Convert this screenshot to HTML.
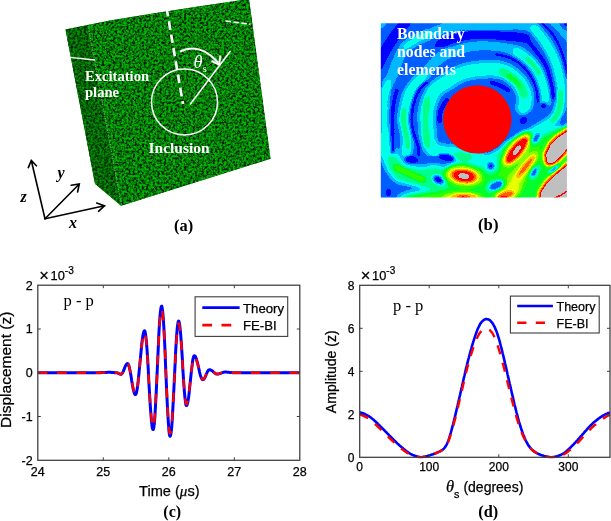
<!DOCTYPE html>
<html><head><meta charset="utf-8"><title>Figure</title>
<style>
html,body{margin:0;padding:0;background:#fff;}
body{width:611px;height:521px;overflow:hidden;}
svg{display:block;}
.sans{font-family:"Liberation Sans","DejaVu Sans",sans-serif;}
.serif{font-family:"Liberation Serif","DejaVu Serif",serif;}
</style></head><body>
<svg width="611" height="521" viewBox="0 0 611 521">
<defs>
<filter id="mesh" x="0" y="0" width="100%" height="100%" color-interpolation-filters="sRGB">
<feTurbulence type="fractalNoise" baseFrequency="0.45" numOctaves="2" seed="7" result="n"/>
<feColorMatrix in="n" type="matrix" values="0 0 0 0 0.012  0 2.6 0 0 -0.76  0 0 0 0 0.02  0 0 0 0 1" result="g"/>
<feComponentTransfer in="g" result="g2"><feFuncG type="table" tableValues="0.12 0.47 0.72"/></feComponentTransfer>
<feComposite in="g2" in2="SourceGraphic" operator="in"/>
</filter>
<clipPath id="clipc"><rect x="37.8" y="285.2" width="262.0" height="175.10000000000002"/></clipPath>
<clipPath id="clipd"><rect x="359.7" y="285.3" width="251.3" height="173.0"/></clipPath>
</defs>
<rect width="611" height="521" fill="#fff"/>

<!-- panel (a) -->
<g id="panel-a">
<polygon points="65.5,29.5 110,20.6 153,13.4 200,6.2 249,-1 270.5,158.7 121,205.7 95,183.7" fill="#0c730f"/>
<polygon points="65.5,29.5 110,20.6 153,13.4 200,6.2 249,-1 270.5,158.7 121,205.7 95,183.7" fill="#0c730f" filter="url(#mesh)"/>
<polygon points="65.5,29.5 88,26 121.5,205.5 95,183.7" fill="#003000" opacity="0.28"/>
<line x1="88" y1="26" x2="121.5" y2="205.5" stroke="#9fc79f" stroke-width="0.7" stroke-dasharray="1.2 1.2"/>
<line x1="70" y1="57.3" x2="95" y2="60" stroke="#fff" stroke-width="1.3"/>
<line x1="166.6" y1="8" x2="183" y2="104" stroke="#fff" stroke-width="2.6" stroke-dasharray="8.5 5"/>
<line x1="225.5" y1="21" x2="250.5" y2="24.3" stroke="#fff" stroke-width="1.6" stroke-dasharray="5.5 2.5"/>
<circle cx="184.5" cy="102" r="33" fill="none" stroke="#fff" stroke-width="1.5"/>
<line x1="190" y1="104.5" x2="230.5" y2="51" stroke="#fff" stroke-width="1.5"/>
<path d="M180,51.5 Q200,42 218,62.5" fill="none" stroke="#fff" stroke-width="2"/>
<path d="M211.5,61 L219,64.5 L220.5,55.5" fill="none" stroke="#fff" stroke-width="2"/>
<g class="serif" fill="#fff" font-weight="bold">
<text x="85" y="80.5" font-size="14.6">Excitation</text>
<text x="85" y="97.2" font-size="14.6">plane</text>
<text x="148.5" y="152.5" font-size="15.5">Inclusion</text>
<text x="193.6" y="68" font-size="18.5" font-style="italic" font-weight="normal">θ<tspan font-size="10.5" dy="3.5" font-style="normal">s</tspan></text>
</g>
<g stroke="#000" stroke-width="1.6" fill="none" stroke-linecap="round">
<path d="M45,218.7 L31.3,160.5 M28.3,167.6 L31.3,160.5 L36.4,165.8"/>
<path d="M45,218.7 L79.3,184 M71.2,185.3 L79.3,184 L77.6,192"/>
<path d="M45,218.7 L104.5,205.8 M96.7,203 L104.5,205.8 L98.5,211.3"/>
</g>
<g class="serif" font-weight="bold" font-style="italic" font-size="16" fill="#000">
<text x="20.5" y="201.5">z</text>
<text x="57.5" y="178">y</text>
<text x="69" y="228.3">x</text>
</g>
<text class="serif" x="174" y="230.6" font-size="16.4" font-weight="bold">(a)</text>
</g>

<!-- panel (b) -->
<g id="panel-b">
<defs>
<filter id="b1" x="-30%" y="-30%" width="160%" height="160%" color-interpolation-filters="sRGB"><feGaussianBlur stdDeviation="1.1"/></filter>
<filter id="b2" x="-30%" y="-30%" width="160%" height="160%" color-interpolation-filters="sRGB"><feGaussianBlur stdDeviation="1.9"/></filter>
<filter id="b3" x="-30%" y="-30%" width="160%" height="160%" color-interpolation-filters="sRGB"><feGaussianBlur stdDeviation="3"/></filter>
<filter id="b4" x="-30%" y="-30%" width="160%" height="160%" color-interpolation-filters="sRGB"><feGaussianBlur stdDeviation="4.5"/></filter>
<filter id="jet" x="0" y="0" width="100%" height="100%" color-interpolation-filters="sRGB">
<feGaussianBlur stdDeviation="0.6"/>
<feComponentTransfer>
<feFuncR type="discrete" tableValues="0 0 0 0 0 0 .18 .545 .91 1 1 1 .75"/>
<feFuncG type="discrete" tableValues="0 .365 .725 1 1 1 1 1 1 .725 .365 0 .75"/>
<feFuncB type="discrete" tableValues="1 1 1 .91 .545 .18 0 0 0 0 0 0 .75"/>
</feComponentTransfer>
<feGaussianBlur stdDeviation="0.6"/>
</filter>
<clipPath id="clipb"><rect x="380.8" y="23.3" width="186.1" height="174.3"/></clipPath>
</defs>
<g clip-path="url(#clipb)">
<g filter="url(#jet)">
<rect x="371" y="13.5" width="206" height="193.5" fill="#222222"/>
<path d="M575.0,124.0 L560.0,127.0 L548.0,129.0 L538.0,134.0 L527.0,140.0 L517.0,141.0 L509.0,150.0 L500.0,157.0 L482.0,163.0 L466.0,163.0 L450.0,168.0 L442.0,186.0 L420.0,205.0 L575.0,205.0 Z" fill="#6a6a6a" filter="url(#b4)"/>
<path d="M385.5,135.0 L385.1,133.1 L384.8,131.1 L384.5,129.2 L384.2,127.3 L384.0,125.3 L383.9,123.4 L383.8,121.4 L383.8,119.5 L383.9,117.5 L383.9,115.6 L384.0,113.6 L384.0,111.6 L384.0,109.7 L384.0,107.7 L383.9,105.7 L383.9,103.7 L383.9,101.7 L384.0,99.8 L384.1,97.8 L384.4,95.9 L384.7,94.0 L385.2,92.2 L385.9,90.3 L386.6,88.5 L387.3,86.7 L388.1,84.9 L389.0,83.1 L389.7,81.3 L390.5,79.5 L391.3,77.7 L392.0,75.9 L392.7,74.1 L393.4,72.2 L394.1,70.4 L394.8,68.5 L395.5,66.7 L396.1,64.8 L396.8,62.9 L397.5,61.0 L398.2,59.1 L399.0,57.2 L399.8,55.4 L400.7,53.7 L401.7,52.0 L402.7,50.3 L403.8,48.8 L405.1,47.3 L406.4,46.0 L407.9,44.8 L409.5,43.6 L411.1,42.5 L412.9,41.5 L414.6,40.6 L416.4,39.7 L418.2,38.9 L420.0,38.1 L421.8,37.3 L423.6,36.6 L425.4,35.8 L427.3,35.1 L429.1,34.4 L430.9,33.7 L432.7,32.9 L434.5,32.2 L436.3,31.4 L438.2,30.7 L440.0,30.0 L441.8,29.4 L443.7,28.7 L445.6,28.2 L447.4,27.6 L449.3,27.1 L451.3,26.7 L453.2,26.4 L455.1,26.1 L457.1,25.9 L459.0,25.7 L461.0,25.6 L462.9,25.5 L464.9,25.5 L466.9,25.4 L468.9,25.4 L470.8,25.4 L472.8,25.5 L474.7,25.5 L476.7,25.5 L478.6,25.5 L480.6,25.5 L482.5,25.5 L484.4,25.5 L486.3,25.5 L488.3,25.5 L490.2,25.5 L492.1,25.5 L494.1,25.4 L496.0,25.4 L498.0,25.3 L500.0,25.2 L502.0,25.1 L504.0,25.0 L506.1,24.9 L508.2,24.8 L510.3,24.7 L512.4,24.6 L514.4,24.6 L516.5,24.6 L518.6,24.6 L520.6,24.7 L522.6,24.8 L524.6,25.1 L526.5,25.5 L528.3,25.9 L530.1,26.5 L531.8,27.2 L533.4,28.1 L535.0,29.1 L536.4,30.2 L537.8,31.5 L539.1,33.0 L540.4,34.5 L541.5,36.1 L542.7,37.8 L543.8,39.5 L544.8,41.2 L545.8,43.0 L546.9,44.8 L547.9,46.5 L548.8,48.3 L549.8,50.0 L550.7,51.7 L551.6,53.5 L552.5,55.2 L553.3,57.0 L554.1,58.7 L554.9,60.5 L555.5,62.3 L556.2,64.1 L556.7,66.0 L557.3,67.9 L557.8,69.8 L558.2,71.7 L558.7,73.6 L559.1,75.5 L559.5,77.5 L559.8,79.4 L560.2,81.3 L560.5,83.3 L560.8,85.2 L561.1,87.1 L561.3,89.1 L561.5,91.0 L561.5,93.0 L561.5,94.9 L561.4,96.9 L561.2,98.8 L561.0,100.8 L560.7,102.7 L560.4,104.7 L560.0,106.6 L559.5,108.5 L559.0,110.4 L558.3,112.3 L557.5,114.0 L556.5,115.8 L555.4,117.4 L554.2,118.9 L552.8,120.3 L551.3,121.6 L549.7,122.7 L548.0,123.8 L546.3,124.7 L544.6,125.7 L542.9,126.6 L541.2,127.6 L539.5,128.6 L537.8,129.6 L536.2,130.7 L534.6,131.8 L533.0,133.0 L531.5,134.2 L530.0,135.4 L528.5,136.7 L527.0,138.0" fill="none" stroke="#333333" stroke-width="9" stroke-linecap="round" stroke-linejoin="round" filter="url(#b2)"/>
<path d="M385.5,135.0 L385.3,133.7 L385.0,132.3 L384.8,131.0 L384.6,129.7 L384.4,128.4 L384.2,127.0 L384.1,125.7 L384.0,124.4 L383.9,123.0 L383.8,121.7 L383.8,120.3 L383.8,119.0 L383.9,117.7 L383.9,116.3 L383.9,115.0 L384.0,113.6 L384.0,112.3 L384.0,110.9 L384.0,109.5 L384.0,108.2 L384.0,106.8 L383.9,105.5 L383.9,104.1 L383.9,102.7 L383.9,101.4 L384.0,100.0 L384.1,98.7 L384.2,97.4 L384.4,96.0 L384.6,94.7 L384.9,93.4 L385.2,92.2 L385.6,90.9 L386.1,89.6 L386.6,88.4 L387.1,87.1 L387.7,85.9 L388.2,84.6 L388.8,83.4" fill="none" stroke="#494949" stroke-width="8" stroke-linecap="round" stroke-linejoin="round" filter="url(#b2)"/>
<path d="M405.6,46.8 L406.6,46.1 L407.7,45.4 L408.7,44.7 L409.7,44.0 L410.8,43.3 L411.8,42.6 L412.9,41.9 L414.0,41.3 L415.0,40.6 L416.1,40.0 L417.2,39.4 L418.3,38.8 L419.4,38.3 L420.5,37.8 L421.7,37.3 L422.8,36.8 L424.0,36.3 L425.1,35.8 L426.3,35.4 L427.5,34.9 L428.6,34.5 L429.8,34.0 L431.0,33.6" fill="none" stroke="#474747" stroke-width="5.5" stroke-linecap="round" stroke-linejoin="round" filter="url(#b2)"/>
<path d="M534.3,28.6 L535.3,29.8 L536.3,30.9 L537.2,32.1 L538.2,33.3 L539.2,34.4 L540.1,35.6 L541.1,36.8 L542.0,38.0 L542.9,39.2 L543.8,40.4 L544.7,41.6 L545.6,42.9 L546.5,44.1 L547.3,45.4 L548.1,46.7 L548.9,48.0 L549.6,49.3 L550.4,50.7 L551.1,52.0 L551.8,53.4 L552.4,54.7 L553.1,56.1 L553.7,57.5 L554.3,58.9 L554.8,60.3 L555.3,61.8 L555.8,63.2 L556.3,64.6 L556.7,66.1 L557.2,67.5 L557.5,69.0 L557.9,70.5 L558.3,72.0 L558.6,73.4 L558.9,74.9 L559.2,76.4 L559.5,77.9 L559.8,79.4 L560.1,80.9 L560.4,82.4 L560.6,83.9 L560.9,85.4 L561.1,86.9 L561.3,88.4 L561.4,89.9 L561.5,91.4 L561.5,93.0 L561.5,94.5 L561.5,96.0 L561.4,97.5 L561.2,99.0 L561.0,100.5 L560.8,102.0 L560.6,103.5 L560.3,105.1 L560.0,106.6 L559.7,108.0 L559.3,109.5 L558.8,111.0 L558.2,112.4 L557.6,113.8 L556.9,115.1 L556.1,116.4 L555.2,117.6 L554.2,118.8 L553.2,119.9 L552.1,121.0 L550.9,121.9 L549.6,122.8 L548.3,123.6 L547.0,124.3 L545.7,125.1 L544.3,125.8 L543.0,126.5 L541.7,127.3 L540.4,128.0 L539.1,128.8 L537.8,129.6 L536.5,130.5 L535.3,131.3 L534.0,132.2 L532.8,133.1 L531.6,134.1 L530.5,135.0 L529.3,136.0 L528.2,137.0 L527.0,138.0" fill="none" stroke="#494949" stroke-width="8" stroke-linecap="round" stroke-linejoin="round" filter="url(#b2)"/>
<path d="M560.5,92.0 L560.5,93.0 L560.6,94.0 L560.6,94.9 L560.6,95.9 L560.6,96.9 L560.6,97.9 L560.6,98.8 L560.6,99.8 L560.5,100.8 L560.5,101.8 L560.4,102.7 L560.3,103.7 L560.2,104.7 L560.1,105.7 L559.9,106.7 L559.7,107.6 L559.5,108.6 L559.2,109.5 L559.0,110.5 L558.6,111.4 L558.3,112.3 L557.9,113.2 L557.5,114.1 L557.0,114.9 L556.5,115.8 L555.9,116.6 L555.4,117.4 L554.8,118.2 L554.2,118.9 L553.6,119.7 L553.0,120.5" fill="none" stroke="#5e5e5e" stroke-width="4.6" stroke-linecap="round" stroke-linejoin="round" filter="url(#b1)"/>
<path d="M406.0,153.0 L406.2,151.3 L406.4,149.5 L406.6,147.8 L406.8,146.1 L406.9,144.4 L407.0,142.6 L407.1,140.9 L407.1,139.1 L407.0,137.4 L406.9,135.6 L406.7,133.9 L406.5,132.2 L406.1,130.5 L405.7,128.8 L405.2,127.1 L404.6,125.4 L404.2,123.7 L403.8,122.0 L403.5,120.3 L403.5,118.6 L403.6,116.9 L403.8,115.2 L404.2,113.5 L404.6,111.8 L405.0,110.0 L405.3,108.3 L405.7,106.6 L406.0,104.9 L406.4,103.1 L406.7,101.5 L407.1,99.8 L407.6,98.1 L408.1,96.4 L408.7,94.8 L409.3,93.2 L410.0,91.6 L410.9,90.1 L411.7,88.6 L412.7,87.1 L413.8,85.7 L414.9,84.3 L416.1,83.0 L417.3,81.8 L418.6,80.7 L420.0,79.5 L421.3,78.4 L422.6,77.2 L423.8,76.0 L424.9,74.7 L426.0,73.4 L427.1,72.0 L428.2,70.6 L429.2,69.2 L430.2,67.8 L431.3,66.4 L432.4,65.0 L433.5,63.7 L434.6,62.4 L435.8,61.2 L437.1,60.0 L438.4,58.9 L439.8,57.8 L441.2,56.8 L442.7,55.9 L444.2,55.0 L445.7,54.1 L447.3,53.3 L448.9,52.5 L450.5,51.8 L452.2,51.1 L453.8,50.5 L455.5,49.8 L457.1,49.2 L458.8,48.7 L460.5,48.2 L462.1,47.7 L463.8,47.2 L465.5,46.8 L467.2,46.4 L468.9,46.1 L470.6,45.7 L472.3,45.5 L474.0,45.2 L475.8,45.0 L477.5,44.9 L479.2,44.7 L481.0,44.7 L482.7,44.6 L484.4,44.6 L486.2,44.6 L487.9,44.7 L489.7,44.8 L491.4,44.9 L493.2,45.1 L494.9,45.3 L496.6,45.6 L498.4,45.9 L500.1,46.2 L501.8,46.5 L503.5,46.9 L505.2,47.3 L506.9,47.8 L508.6,48.3 L510.2,48.9 L511.8,49.5 L513.5,50.1 L515.0,50.8 L516.6,51.6 L518.1,52.4 L519.6,53.3 L521.1,54.2 L522.6,55.2 L524.0,56.2 L525.4,57.3 L526.7,58.4 L528.0,59.5 L529.3,60.7 L530.6,61.9 L531.8,63.2 L533.0,64.5 L534.1,65.8 L535.2,67.2 L536.2,68.6 L537.2,70.0 L538.1,71.5 L538.9,73.0 L539.7,74.6 L540.4,76.2 L541.1,77.8 L541.7,79.4 L542.3,81.0 L542.9,82.7 L543.4,84.4 L544.0,86.1 L544.5,87.7 L544.9,89.4 L545.3,91.1 L545.6,92.8 L545.7,94.6 L545.8,96.3 L545.8,98.0 L545.7,99.8 L545.5,101.5" fill="none" stroke="#333333" stroke-width="9.5" stroke-linecap="round" stroke-linejoin="round" filter="url(#b2)"/>
<path d="M406.0,153.0 L406.2,151.7 L406.3,150.4 L406.5,149.1 L406.6,147.9 L406.7,146.6 L406.8,145.3 L406.9,144.0 L407.0,142.7 L407.1,141.4 L407.1,140.1 L407.1,138.8 L407.0,137.5 L407.0,136.2 L406.9,134.9 L406.7,133.6 L406.5,132.4 L406.3,131.1 L405.9,129.8 L405.6,128.5 L405.2,127.3 L404.8,126.0 L404.4,124.8 L404.1,123.5 L403.8,122.3 L403.6,121.0 L403.5,119.8 L403.5,118.5 L403.6,117.2 L403.7,115.9 L403.9,114.7 L404.2,113.4 L404.5,112.1 L404.8,110.8 L405.1,109.5 L405.3,108.2 L405.6,106.9 L405.9,105.7 L406.1,104.4 L406.4,103.1 L406.6,101.8 L406.9,100.6 L407.2,99.3 L407.6,98.1 L407.9,96.9 L408.4,95.7 L408.8,94.5 L409.3,93.3 L409.8,92.1 L410.4,90.9 L411.1,89.8 L411.7,88.7 L412.4,87.6 L413.2,86.5 L414.0,85.5 L414.8,84.5 L415.7,83.5 L416.6,82.5 L417.5,81.6 L418.4,80.7 L419.4,79.9 L420.4,79.0 L421.4,78.2 L422.4,77.4" fill="none" stroke="#494949" stroke-width="9" stroke-linecap="round" stroke-linejoin="round" filter="url(#b2)"/>
<path d="M516.6,51.6 L517.7,52.3 L518.8,53.0 L519.9,53.7 L521.0,54.4 L522.1,55.1 L523.1,55.8 L524.2,56.6 L525.2,57.4 L526.3,58.1 L527.3,58.9 L528.3,59.8 L529.3,60.6 L530.2,61.5 L531.1,62.4 L532.0,63.4 L532.9,64.3 L533.8,65.3 L534.6,66.3 L535.4,67.3 L536.1,68.4 L536.9,69.5 L537.5,70.6 L538.2,71.7 L538.8,72.8 L539.4,74.0 L539.9,75.2 L540.5,76.3 L541.0,77.5 L541.4,78.7 L541.9,80.0 L542.3,81.2 L542.8,82.4 L543.2,83.7 L543.6,84.9 L544.0,86.2 L544.4,87.4 L544.7,88.7 L545.0,89.9 L545.3,91.2 L545.5,92.5 L545.7,93.8 L545.8,95.0 L545.8,96.3 L545.8,97.6 L545.7,98.9 L545.6,100.2 L545.5,101.5" fill="none" stroke="#494949" stroke-width="8.5" stroke-linecap="round" stroke-linejoin="round" filter="url(#b2)"/>
<path d="M408.5,147.0 L408.4,146.0 L408.2,145.1 L408.1,144.1 L407.9,143.2 L407.8,142.2 L407.6,141.3 L407.5,140.3 L407.3,139.4 L407.1,138.5 L406.9,137.5 L406.7,136.6 L406.4,135.6 L406.2,134.7 L406.0,133.8 L405.7,132.9 L405.5,131.9 L405.2,131.0 L405.0,130.1 L404.8,129.1 L404.5,128.2 L404.3,127.2 L404.2,126.3 L404.0,125.3 L403.8,124.4 L403.7,123.4 L403.6,122.5 L403.5,121.5 L403.4,120.6 L403.3,119.6 L403.3,118.6 L403.3,117.7 L403.3,116.7 L403.3,115.8 L403.4,114.8 L403.5,113.8 L403.5,112.9 L403.6,111.9 L403.7,111.0 L403.8,110.0" fill="none" stroke="#5c5c5c" stroke-width="4" stroke-linecap="round" stroke-linejoin="round" filter="url(#b1)"/>
<path d="M527.0,58.5 L527.6,59.1 L528.2,59.6 L528.8,60.2 L529.4,60.7 L530.0,61.3 L530.6,61.9 L531.2,62.4 L531.8,63.0 L532.4,63.6 L532.9,64.2 L533.5,64.8 L534.0,65.5 L534.5,66.1 L535.0,66.8 L535.5,67.4 L535.9,68.1 L536.4,68.8 L536.8,69.5 L537.3,70.2 L537.7,70.9 L538.1,71.6 L538.6,72.3 L539.0,73.0" fill="none" stroke="#5c5c5c" stroke-width="3.6" stroke-linecap="round" stroke-linejoin="round" filter="url(#b1)"/>
<path d="M524.0,107.5 L524.4,106.2 L524.7,104.8 L525.0,103.5 L525.3,102.1 L525.4,100.7 L525.5,99.4 L525.5,98.0 L525.4,96.6 L525.3,95.2 L525.0,93.8 L524.7,92.5 L524.2,91.2 L523.7,89.9 L523.1,88.6 L522.5,87.4 L521.8,86.2 L521.0,85.0 L520.2,83.9 L519.4,82.8 L518.5,81.8 L517.6,80.8 L516.6,79.8 L515.6,78.8 L514.6,77.8 L513.6,76.9 L512.5,76.0 L511.4,75.1 L510.3,74.3 L509.1,73.5 L507.9,72.8 L506.7,72.1 L505.5,71.5 L504.2,71.0 L502.9,70.5 L501.6,70.2 L500.3,69.9 L498.9,69.6 L497.5,69.5 L496.1,69.3 L494.7,69.3 L493.3,69.2 L491.9,69.2 L490.5,69.2 L489.1,69.2 L487.7,69.2 L486.3,69.3 L485.0,69.3 L483.6,69.4 L482.2,69.5 L480.8,69.6 L479.5,69.7 L478.1,69.9 L476.7,70.0 L475.3,70.2 L474.0,70.4 L472.6,70.6 L471.2,70.8 L469.8,71.0 L468.5,71.3 L467.1,71.6 L465.8,72.0 L464.4,72.4 L463.1,72.8 L461.8,73.3 L460.6,73.8 L459.3,74.3 L458.1,74.9 L456.9,75.6 L455.7,76.2 L454.5,76.9 L453.4,77.7 L452.2,78.4 L451.0,79.2 L449.9,79.9 L448.7,80.7 L447.6,81.5 L446.4,82.2 L445.2,83.0 L444.0,83.7 L442.7,84.4 L441.5,85.1 L440.3,85.8 L439.1,86.6 L438.0,87.4 L436.9,88.2 L435.9,89.1 L434.9,90.1 L434.1,91.1 L433.4,92.2 L432.7,93.4 L432.1,94.7 L431.5,96.0 L431.0,97.3 L430.5,98.6 L430.0,100.0 L429.5,101.3 L429.1,102.6 L428.6,103.9 L428.2,105.2 L427.8,106.6 L427.4,107.9 L427.1,109.2 L426.9,110.6 L426.7,111.9 L426.6,113.3 L426.5,114.7 L426.5,116.0 L426.5,117.4 L426.6,118.8 L426.6,120.2 L426.7,121.6 L426.8,123.0 L426.9,124.4 L427.1,125.8 L427.2,127.1 L427.3,128.5 L427.4,129.9 L427.5,131.3 L427.5,132.7 L427.6,134.0 L427.7,135.4 L427.8,136.8 L427.9,138.2 L428.1,139.5 L428.4,140.9 L428.8,142.2 L429.3,143.5 L429.9,144.8 L430.7,146.0 L431.5,147.2 L432.4,148.2 L433.4,149.2 L434.5,150.0 L435.7,150.7 L437.0,151.3 L438.3,151.8 L439.6,152.2 L441.0,152.5 L442.4,152.7 L443.8,152.7 L445.2,152.8 L446.6,152.7 L448.0,152.7 L449.4,152.7 L450.7,152.8 L452.1,152.9 L453.4,153.1 L454.7,153.4 L456.0,153.8 L457.3,154.3 L458.6,154.8 L459.9,155.4 L461.2,156.0 L462.4,156.6 L463.7,157.1 L465.0,157.6 L466.3,158.1 L467.6,158.5 L469.0,158.8 L470.3,159.1 L471.7,159.3 L473.1,159.5 L474.4,159.6 L475.8,159.8 L477.2,159.8 L478.6,159.9 L480.0,160.0" fill="none" stroke="#494949" stroke-width="14" stroke-linecap="round" stroke-linejoin="round" filter="url(#b2)"/>
<path d="M427.5,101.0 L427.2,102.1 L426.9,103.2 L426.6,104.3 L426.3,105.3 L426.0,106.4 L425.7,107.5 L425.4,108.6 L425.2,109.7 L425.0,110.8 L424.8,111.9 L424.7,113.0 L424.5,114.1 L424.4,115.2 L424.3,116.4 L424.3,117.5 L424.2,118.6 L424.2,119.7 L424.2,120.8 L424.2,122.0 L424.2,123.1 L424.3,124.2 L424.3,125.4 L424.4,126.5 L424.4,127.6 L424.5,128.7 L424.6,129.9 L424.7,131.0 L424.8,132.1 L425.0,133.2 L425.2,134.3 L425.4,135.4 L425.6,136.5 L425.9,137.6 L426.2,138.7 L426.6,139.7 L426.9,140.8 L427.3,141.9 L427.6,142.9 L428.0,144.0" fill="none" stroke="#5c5c5c" stroke-width="7" stroke-linecap="round" stroke-linejoin="round" filter="url(#b1)"/>
<path d="M503.0,72.5 L503.9,73.0 L504.7,73.4 L505.6,73.9 L506.5,74.4 L507.3,74.9 L508.2,75.4 L509.0,75.9 L509.9,76.4 L510.7,77.0 L511.5,77.5 L512.3,78.1 L513.1,78.7 L513.9,79.3 L514.7,79.9 L515.4,80.6 L516.1,81.3 L516.8,82.0 L517.5,82.7 L518.2,83.5 L518.8,84.2 L519.4,85.0 L519.9,85.9 L520.4,86.7 L520.9,87.6 L521.3,88.5 L521.7,89.4 L522.1,90.3 L522.5,91.2 L522.8,92.1 L523.2,93.1 L523.5,94.0" fill="none" stroke="#5e5e5e" stroke-width="7.5" stroke-linecap="round" stroke-linejoin="round" filter="url(#b1)"/>
<path d="M508.0,75.5 L508.6,75.9 L509.2,76.2 L509.8,76.6 L510.4,76.9 L510.9,77.3 L511.5,77.7 L512.1,78.1 L512.6,78.5 L513.2,78.9 L513.7,79.3 L514.2,79.7 L514.7,80.2 L515.2,80.7 L515.7,81.2 L516.1,81.7 L516.6,82.2 L517.0,82.7 L517.4,83.2 L517.9,83.8 L518.3,84.3 L518.7,84.9 L519.1,85.4 L519.5,86.0" fill="none" stroke="#6e6e6e" stroke-width="3.5" stroke-linecap="round" stroke-linejoin="round" filter="url(#b1)"/>
<path d="M550.0,20.0 L551.0,20.8 L551.9,21.6 L552.9,22.5 L553.9,23.3 L554.8,24.1 L555.8,25.0 L556.7,25.8 L557.6,26.7 L558.5,27.5 L559.4,28.4 L560.3,29.3 L561.2,30.2 L562.0,31.2 L562.9,32.1 L563.7,33.1 L564.5,34.0 L565.3,35.0 L566.1,36.0 L566.9,37.0 L567.7,38.0 L568.4,39.0 L569.2,40.0 L570.0,41.0" fill="none" stroke="#333333" stroke-width="5" stroke-linecap="round" stroke-linejoin="round" filter="url(#b2)"/>
<ellipse cx="567" cy="23" rx="4" ry="4" transform="rotate(0 567 23)" fill="#060606" filter="url(#b2)"/>
<ellipse cx="380.5" cy="23" rx="5" ry="4.5" transform="rotate(0 380.5 23)" fill="#353535" filter="url(#b1)"/>
<path d="M379.0,133.0 L390.0,131.0 L396.0,150.0 L405.5,164.5 L422.4,167.0 L434.5,163.8 L446.0,168.0 L446.0,191.0 L425.0,189.5 L411.6,185.5 L395.5,181.5 L387.0,170.5 L379.0,152.0 Z" fill="#494949" filter="url(#b2)"/>
<path d="M388.0,158.0 L391.0,156.0 L395.0,158.0 L403.0,167.0 L421.0,170.5 L436.0,169.0 L444.0,172.0 L444.0,188.0 L426.0,186.5 L412.0,182.5 L397.5,178.0 L390.0,168.0 Z" fill="#5c5c5c" filter="url(#b2)"/>
<path d="M396.5,167.5 L397.6,168.0 L398.7,168.6 L399.9,169.1 L401.0,169.7 L402.1,170.2 L403.2,170.7 L404.4,171.3 L405.5,171.8 L406.6,172.3 L407.7,172.9 L408.9,173.4 L410.0,173.9 L411.1,174.4 L412.3,175.0 L413.4,175.5 L414.5,176.0 L415.7,176.5 L416.8,177.0 L417.9,177.5 L419.1,178.0 L420.2,178.5 L421.4,179.0 L422.5,179.5" fill="none" stroke="#818181" stroke-width="6" stroke-linecap="round" stroke-linejoin="round" filter="url(#b1)"/>
<path d="M418.8,155.0 L418.8,153.7 L418.8,152.5 L418.8,151.2 L418.7,149.9 L418.6,148.7 L418.5,147.5 L418.3,146.3 L418.0,145.1 L417.6,143.9 L417.2,142.7 L416.7,141.5 L416.3,140.4 L415.8,139.2 L415.3,138.0 L414.8,136.9 L414.4,135.7 L414.0,134.5 L413.6,133.3 L413.3,132.1 L413.0,130.9 L412.7,129.6 L412.5,128.4 L412.3,127.2 L412.1,125.9 L412.0,124.7 L411.9,123.4 L411.8,122.2 L411.7,120.9 L411.7,119.7 L411.7,118.4 L411.7,117.2 L411.8,115.9 L411.8,114.7 L411.9,113.4 L412.1,112.2 L412.2,110.9 L412.4,109.7 L412.6,108.5 L412.8,107.2 L413.1,106.0 L413.3,104.8 L413.6,103.6 L414.0,102.4 L414.3,101.2 L414.7,100.0 L415.1,98.8 L415.6,97.6 L416.0,96.4 L416.5,95.3 L417.0,94.1 L417.6,93.0 L418.2,91.8 L418.8,90.7 L419.5,89.6 L420.2,88.6 L421.0,87.6 L421.8,86.6 L422.6,85.7 L423.6,84.9 L424.5,84.1 L425.6,83.4 L426.6,82.8 L427.7,82.1" fill="none" stroke="#080808" stroke-width="3.2" stroke-linecap="round" stroke-linejoin="round" filter="url(#b1)"/>
<path d="M495.4,54.2 L496.9,54.4 L498.4,54.7 L499.9,55.0 L501.4,55.2 L502.8,55.6 L504.3,55.9 L505.8,56.3 L507.2,56.7 L508.6,57.2 L510.0,57.8 L511.4,58.4 L512.8,59.1 L514.1,59.8 L515.4,60.5 L516.7,61.3 L518.0,62.2 L519.2,63.1 L520.4,64.1 L521.5,65.0 L522.7,66.1 L523.7,67.1 L524.8,68.2 L525.8,69.4 L526.7,70.5 L527.7,71.7 L528.6,72.9 L529.4,74.2 L530.3,75.5 L531.1,76.8 L531.8,78.1 L532.6,79.4 L533.2,80.8 L533.9,82.2 L534.5,83.6 L535.0,85.0 L535.5,86.4 L536.0,87.9 L536.4,89.3 L536.7,90.8 L537.0,92.3 L537.2,93.8 L537.4,95.2 L537.5,96.8 L537.6,98.3 L537.7,99.8 L537.8,101.3 L537.8,102.8" fill="none" stroke="#080808" stroke-width="2.6" stroke-linecap="round" stroke-linejoin="round" filter="url(#b1)"/>
<path d="M392.8,152.0 L392.8,149.8 L392.8,147.6 L392.8,145.4 L392.8,143.2 L392.8,141.0 L392.8,138.8 L392.8,136.6 L392.7,134.4 L392.7,132.2 L392.7,130.0 L392.7,127.8 L392.6,125.6 L392.6,123.4 L392.6,121.2 L392.6,119.0 L392.6,116.8 L392.7,114.6 L392.7,112.3 L392.8,110.1 L392.9,107.8 L393.1,105.5 L393.3,103.3 L393.5,101.0 L393.9,98.8 L394.4,96.7 L395.0,94.6 L395.7,92.5 L396.6,90.5 L397.7,88.7 L398.9,86.8 L400.2,85.1 L401.6,83.3 L403.0,81.6 L404.5,79.9 L405.9,78.2 L407.3,76.4 L408.6,74.7 L409.9,72.9 L411.3,71.1 L412.6,69.4 L413.9,67.6 L415.2,65.9 L416.6,64.1 L417.9,62.4 L419.4,60.7 L420.8,59.1 L422.4,57.5 L423.9,55.9 L425.5,54.3 L427.2,52.9 L428.9,51.4 L430.6,50.0 L432.4,48.7 L434.2,47.4 L436.1,46.2 L438.0,45.1 L439.9,44.0 L441.9,43.0 L443.9,42.1 L445.9,41.3 L448.0,40.5 L450.1,39.7 L452.2,39.1 L454.3,38.4 L456.5,37.9 L458.6,37.3 L460.8,36.8 L463.0,36.4 L465.2,36.0 L467.3,35.6 L469.5,35.3 L471.7,35.1 L473.9,34.9 L476.1,34.8 L478.3,34.8 L480.4,34.8 L482.6,34.8 L484.8,35.0 L486.9,35.1 L489.1,35.2 L491.3,35.4 L493.5,35.5 L495.8,35.6 L498.0,35.7 L500.3,35.7 L502.7,35.7 L505.0,35.6 L507.4,35.5 L509.7,35.5 L512.0,35.5 L514.3,35.5 L516.6,35.7 L518.7,36.0 L520.8,36.4 L522.8,37.0 L524.7,37.8 L526.4,38.9 L528.1,40.2 L529.6,41.7 L531.0,43.4 L532.4,45.1 L533.7,47.0 L535.0,48.9 L536.2,50.9 L537.5,52.8 L538.8,54.7 L540.1,56.6 L541.4,58.4 L542.6,60.3 L543.8,62.1 L544.9,63.9 L545.9,65.9 L546.8,67.8 L547.6,69.9 L548.2,72.0 L548.8,74.1 L549.4,76.3 L549.9,78.4 L550.4,80.6 L551.0,82.7 L551.5,84.9 L552.0,87.0 L552.4,89.2 L552.7,91.4 L552.8,93.6 L552.9,95.8 L553.0,98.0" fill="none" stroke="#121212" stroke-width="3.5" stroke-linecap="round" stroke-linejoin="round" filter="url(#b2)"/>
<path d="M392.8,152.0 L392.8,150.0 L392.8,148.0 L392.8,146.0 L392.8,144.0 L392.8,142.0 L392.8,140.0 L392.8,138.0 L392.7,135.9 L392.6,133.9 L392.6,131.9 L392.5,129.9 L392.4,127.9 L392.4,125.9 L392.3,123.9 L392.3,121.9 L392.3,119.8 L392.3,117.8 L392.4,115.8 L392.5,113.9 L392.6,111.9 L392.8,109.9 L393.1,107.9 L393.4,105.9 L393.7,103.9 L394.1,102.0 L394.5,100.0 L394.9,98.0 L395.4,96.1 L395.8,94.1 L396.3,92.2 L396.8,90.2" fill="none" stroke="#060606" stroke-width="2.6" stroke-linecap="round" stroke-linejoin="round" filter="url(#b1)"/>
<path d="M440.0,44.0 L442.1,43.2 L444.2,42.3 L446.2,41.5 L448.3,40.7 L450.4,39.9 L452.5,39.2 L454.6,38.5 L456.8,37.9 L458.9,37.3 L461.1,36.7 L463.3,36.3 L465.5,35.9 L467.7,35.6 L469.9,35.3 L472.1,35.1 L474.3,34.9 L476.6,34.8 L478.8,34.7 L481.0,34.7 L483.3,34.7 L485.5,34.7 L487.7,34.8 L490.0,34.9 L492.2,35.0 L494.4,35.2 L496.6,35.4 L498.9,35.5 L501.1,35.7 L503.3,35.9 L505.5,36.2 L507.8,36.4 L510.0,36.6 L512.2,36.8 L514.4,37.1 L516.6,37.3 L518.9,37.6 L521.1,37.8 L523.3,38.1 L525.5,38.3" fill="none" stroke="#040404" stroke-width="8" stroke-linecap="round" stroke-linejoin="round" filter="url(#b2)"/>
<path d="M525.5,38.3 L526.4,39.4 L527.3,40.5 L528.3,41.6 L529.2,42.7 L530.1,43.8 L531.0,44.9 L531.9,46.0 L532.8,47.1 L533.7,48.2 L534.6,49.3 L535.5,50.4 L536.4,51.6 L537.3,52.7 L538.2,53.8 L539.1,55.0 L540.0,56.2 L540.8,57.3 L541.7,58.5 L542.5,59.7 L543.3,60.9 L544.0,62.1 L544.7,63.4 L545.4,64.6 L546.0,65.9 L546.6,67.2 L547.1,68.6 L547.6,69.9 L548.0,71.3 L548.4,72.6 L548.8,74.0 L549.1,75.4 L549.5,76.8 L549.8,78.2 L550.2,79.6 L550.5,81.0 L550.9,82.4 L551.2,83.8 L551.6,85.2 L551.9,86.6 L552.2,88.0 L552.4,89.4 L552.6,90.8 L552.7,92.3 L552.8,93.7 L552.9,95.1 L553.0,96.6 L553.0,98.0" fill="none" stroke="#060606" stroke-width="2.6" stroke-linecap="round" stroke-linejoin="round" filter="url(#b1)"/>
<path d="M377.0,67.0 L377.8,65.3 L378.6,63.7 L379.4,62.0 L380.2,60.3 L381.1,58.7 L381.9,57.0 L382.7,55.4 L383.6,53.7 L384.5,52.1 L385.4,50.5 L386.3,48.9 L387.2,47.3 L388.2,45.7 L389.2,44.2 L390.2,42.6 L391.2,41.1 L392.2,39.5 L393.3,38.0 L394.4,36.5 L395.5,35.0 L396.6,33.5 L397.7,32.1 L398.8,30.6 L400.0,29.1 L401.1,27.7 L402.2,26.2 L403.4,24.8 L404.5,23.3 L405.7,21.9 L406.8,20.4 L408.0,19.0" fill="none" stroke="#020202" stroke-width="10" stroke-linecap="round" stroke-linejoin="round" filter="url(#b2)"/>
<path d="M539.6,21.0 L540.8,22.1 L542.0,23.2 L543.3,24.3 L544.5,25.4 L545.6,26.5 L546.8,27.7 L548.0,28.8 L549.1,30.0 L550.2,31.2 L551.2,32.4 L552.2,33.7 L553.2,35.0 L554.1,36.3 L555.0,37.7 L555.8,39.1 L556.6,40.5 L557.4,41.9 L558.1,43.4 L558.8,44.9 L559.4,46.4 L560.1,47.9 L560.6,49.4 L561.2,50.9 L561.8,52.5 L562.3,54.0 L562.8,55.6 L563.3,57.1 L563.8,58.7 L564.2,60.2 L564.6,61.8 L565.1,63.3 L565.5,64.9 L565.8,66.5 L566.2,68.1 L566.6,69.7 L566.9,71.2 L567.3,72.8 L567.7,74.4 L568.0,76.0" fill="none" stroke="#0a0a0a" stroke-width="3" stroke-linecap="round" stroke-linejoin="round" filter="url(#b1)"/>
<path d="M447.0,100.0 L446.4,100.8 L445.8,101.6 L445.2,102.5 L444.6,103.3 L444.1,104.1 L443.5,104.9 L443.0,105.8 L442.5,106.6 L442.1,107.5 L441.6,108.4 L441.3,109.3 L440.9,110.2 L440.6,111.1 L440.4,112.1 L440.2,113.0 L440.0,114.0 L439.9,115.0 L439.8,116.0 L439.7,117.0 L439.6,118.0 L439.6,119.0 L439.5,120.0 L439.5,121.0" fill="none" stroke="#040404" stroke-width="4.5" stroke-linecap="round" stroke-linejoin="round" filter="url(#b1)"/>
<path d="M491.9,82.5 L492.7,82.8 L493.4,83.0 L494.2,83.3 L495.0,83.5 L495.7,83.8 L496.5,84.1 L497.3,84.4 L498.0,84.7 L498.8,85.0 L499.5,85.3 L500.2,85.6 L501.0,86.0 L501.7,86.3 L502.4,86.7 L503.1,87.1 L503.8,87.5 L504.5,87.9 L505.2,88.3 L505.9,88.7 L506.6,89.1 L507.3,89.5 L508.0,90.0 L508.7,90.4" fill="none" stroke="#040404" stroke-width="4" stroke-linecap="round" stroke-linejoin="round" filter="url(#b1)"/>
<path d="M545.0,106.0 L544.2,106.7 L543.3,107.5 L542.5,108.2 L541.6,108.9 L540.7,109.7 L539.9,110.4 L539.0,111.1 L538.1,111.7 L537.2,112.4 L536.3,113.0 L535.4,113.6 L534.4,114.2 L533.5,114.8 L532.5,115.4 L531.5,115.9 L530.5,116.4 L529.5,116.9 L528.5,117.4 L527.5,118.0 L526.6,118.5 L525.6,119.1 L524.7,119.7 L523.8,120.3 L522.9,121.0 L522.0,121.7 L521.2,122.5 L520.4,123.3 L519.7,124.1 L519.0,125.0 L518.3,125.9 L517.7,126.9 L517.1,127.8 L516.6,128.8 L516.1,129.8 L515.6,130.8 L515.2,131.9 L514.8,132.9 L514.4,133.9 L514.0,135.0" fill="none" stroke="#1b1b1b" stroke-width="6.5" stroke-linecap="round" stroke-linejoin="round" filter="url(#b2)"/>
<ellipse cx="523.5" cy="120.5" rx="3.6" ry="3.2" transform="rotate(-30 523.5 120.5)" fill="#040404" filter="url(#b1)"/>
<ellipse cx="543.7" cy="105.5" rx="2.6" ry="2.2" transform="rotate(-30 543.7 105.5)" fill="#040404" filter="url(#b1)"/>
<path d="M509.4,144.6 L509.0,145.1 L508.6,145.6 L508.1,146.1 L507.7,146.6 L507.3,147.1 L506.9,147.6 L506.4,148.0 L506.0,148.5 L505.5,149.0 L505.0,149.4 L504.5,149.9 L504.1,150.3 L503.6,150.7 L503.1,151.1 L502.6,151.5 L502.0,151.9 L501.5,152.3 L501.0,152.7 L500.5,153.1 L499.9,153.4 L499.4,153.8 L498.8,154.1 L498.3,154.5 L497.7,154.8 L497.1,155.1 L496.6,155.4 L496.0,155.7 L495.4,156.0 L494.8,156.3 L494.2,156.6 L493.6,156.8 L493.0,157.1 L492.4,157.3 L491.8,157.6 L491.2,157.8 L490.6,158.0 L490.0,158.2 L489.4,158.4 L488.8,158.6 L488.1,158.8 L487.5,158.9 L486.9,159.1 L486.2,159.2 L485.6,159.4 L485.0,159.5 L484.3,159.6 L483.7,159.7 L483.0,159.8 L482.4,159.9 L481.7,160.0 L481.1,160.0 L480.5,160.1 L479.8,160.1 L479.2,160.2 L478.5,160.2 L477.9,160.2 L477.2,160.2 L476.6,160.2 L475.9,160.2 L475.3,160.1 L474.6,160.1 L474.0,160.0 L473.3,160.0 L472.7,159.9 L472.0,159.8 L471.4,159.7 L470.7,159.6 L470.1,159.5 L469.5,159.4 L468.8,159.3 L468.2,159.1 L467.6,159.0 L466.9,158.8 L466.3,158.6 L465.7,158.4 L465.1,158.3 L464.4,158.0 L463.8,157.8 L463.2,157.6 L462.6,157.4 L462.0,157.1 L461.4,156.8 L460.8,156.6 L460.2,156.3 L459.7,156.0 L459.1,155.7 L458.5,155.5" fill="none" stroke="#4b4b4b" stroke-width="7" stroke-linecap="round" stroke-linejoin="round" filter="url(#b2)"/>
<path d="M505.6,148.8 L505.2,149.2 L504.8,149.6 L504.4,149.9 L504.0,150.3 L503.6,150.6 L503.2,151.0 L502.7,151.3 L502.3,151.7 L501.9,152.0 L501.5,152.4 L501.0,152.7 L500.6,153.0 L500.1,153.3 L499.7,153.6 L499.2,153.9 L498.7,154.2 L498.3,154.5 L497.8,154.8 L497.3,155.0 L496.8,155.3 L496.4,155.5 L495.9,155.8 L495.4,156.0 L494.9,156.3 L494.4,156.5 L493.9,156.7 L493.4,156.9 L492.9,157.1 L492.4,157.3 L491.9,157.5 L491.4,157.8" fill="none" stroke="#565656" stroke-width="3" stroke-linecap="round" stroke-linejoin="round" filter="url(#b2)"/>
<path d="M410.0,159.0 L411.4,159.4 L412.7,159.7 L414.1,160.1 L415.4,160.4 L416.8,160.6 L418.1,160.8 L419.5,161.0 L420.8,161.0 L422.2,161.0 L423.5,160.9 L424.8,160.7 L426.2,160.4 L427.5,160.1 L428.9,159.8 L430.2,159.4 L431.5,159.0 L432.9,158.7 L434.2,158.4 L435.6,158.1 L436.9,157.9 L438.3,157.7 L439.6,157.6 L441.0,157.5 L442.4,157.5 L443.7,157.5 L445.1,157.5 L446.5,157.6 L447.9,157.7 L449.2,157.8 L450.6,157.9 L452.0,158.0" fill="none" stroke="#1a1a1a" stroke-width="6" stroke-linecap="round" stroke-linejoin="round" filter="url(#b2)"/>
<ellipse cx="411.5" cy="159.5" rx="6.5" ry="3.3" transform="rotate(10 411.5 159.5)" fill="#040404" filter="url(#b1)"/>
<ellipse cx="446.5" cy="157.5" rx="8.5" ry="3.4" transform="rotate(12 446.5 157.5)" fill="#040404" filter="url(#b1)"/>
<ellipse cx="388.5" cy="192.5" rx="3" ry="3.5" transform="rotate(0 388.5 192.5)" fill="#040404" filter="url(#b1)"/>
<ellipse cx="438.5" cy="179.7" rx="7.5" ry="5" transform="rotate(28 438.5 179.7)" fill="#333333" filter="url(#b1)"/>
<ellipse cx="438.5" cy="179.7" rx="4.6" ry="2.7" transform="rotate(28 438.5 179.7)" fill="#020202" filter="url(#b1)"/>
<ellipse cx="445" cy="201" rx="46" ry="10" transform="rotate(0 445 201)" fill="#808080" filter="url(#b3)"/>
<ellipse cx="462" cy="199" rx="20" ry="6.8" transform="rotate(0 462 199)" fill="#a7a7a7" filter="url(#b2)"/>
<ellipse cx="464" cy="198" rx="13" ry="4.6" transform="rotate(0 464 198)" fill="#c4c4c4" filter="url(#b1)"/>
<ellipse cx="463.5" cy="198" rx="4.5" ry="2" transform="rotate(0 463.5 198)" fill="#e4e4e4" filter="url(#b1)"/>
<ellipse cx="463" cy="156.5" rx="10" ry="3.6" transform="rotate(5 463 156.5)" fill="#585858" filter="url(#b2)"/>
<ellipse cx="508" cy="176" rx="10" ry="16" transform="rotate(35 508 176)" fill="#818181" filter="url(#b3)"/>
<ellipse cx="530" cy="152" rx="8" ry="14" transform="rotate(38 530 152)" fill="#7e7e7e" filter="url(#b3)"/>
<ellipse cx="515" cy="183" rx="8" ry="13" transform="rotate(40 515 183)" fill="#a1a1a1" filter="url(#b3)"/>
<ellipse cx="463.8" cy="176" rx="21" ry="11" transform="rotate(8 463.8 176)" fill="#898989" filter="url(#b2)"/>
<ellipse cx="463.8" cy="176" rx="16.5" ry="8.6" transform="rotate(8 463.8 176)" fill="#b1b1b1" filter="url(#b2)"/>
<ellipse cx="463.8" cy="176" rx="12.8" ry="6.6" transform="rotate(8 463.8 176)" fill="#d4d4d4" filter="url(#b1)"/>
<ellipse cx="463.8" cy="176" rx="9.6" ry="4.7" transform="rotate(8 463.8 176)" fill="#e6e6e6" filter="url(#b1)"/>
<ellipse cx="463.8" cy="176" rx="5.2" ry="2.1" transform="rotate(8 463.8 176)" fill="#ffffff" filter="url(#b1)"/>
<ellipse cx="516.8" cy="150.2" rx="22" ry="10" transform="rotate(-50 516.8 150.2)" fill="#898989" filter="url(#b2)"/>
<ellipse cx="516.8" cy="150.2" rx="19" ry="8" transform="rotate(-50 516.8 150.2)" fill="#b1b1b1" filter="url(#b2)"/>
<ellipse cx="516.8" cy="150.2" rx="16.5" ry="5.9" transform="rotate(-50 516.8 150.2)" fill="#d4d4d4" filter="url(#b1)"/>
<ellipse cx="516.8" cy="150.2" rx="14.3" ry="4.1" transform="rotate(-50 516.8 150.2)" fill="#e6e6e6" filter="url(#b1)"/>
<ellipse cx="516.8" cy="150.2" rx="6.0" ry="1.5" transform="rotate(-50 516.8 150.2)" fill="#ffffff" filter="url(#b1)"/>
<ellipse cx="525.5" cy="167" rx="19.5" ry="6.3" transform="rotate(-51 525.5 167)" fill="#a5a5a5" filter="url(#b2)"/>
<ellipse cx="525.5" cy="167" rx="14" ry="3.0" transform="rotate(-51 525.5 167)" fill="#cacaca" filter="url(#b1)"/>
<ellipse cx="507" cy="192" rx="14" ry="8" transform="rotate(-15 507 192)" fill="#a3a3a3" filter="url(#b2)"/>
<ellipse cx="506" cy="195" rx="9" ry="4" transform="rotate(-15 506 195)" fill="#c8c8c8" filter="url(#b1)"/>
<ellipse cx="503" cy="198" rx="5" ry="2.2" transform="rotate(-10 503 198)" fill="#e4e4e4" filter="url(#b1)"/>
<ellipse cx="490.7" cy="166" rx="7.5" ry="7.2" transform="rotate(0 490.7 166)" fill="#414141" filter="url(#b2)"/>
<ellipse cx="490.7" cy="166" rx="3.3" ry="3.1" transform="rotate(0 490.7 166)" fill="#1b1b1b" filter="url(#b1)"/>
<ellipse cx="490.7" cy="166" rx="2.0" ry="2.0" transform="rotate(0 490.7 166)" fill="#0e0e0e" filter="url(#b1)"/>
<ellipse cx="496" cy="185.5" rx="10.0" ry="5.6" transform="rotate(-25 496 185.5)" fill="#414141" filter="url(#b2)"/>
<ellipse cx="496" cy="185.5" rx="6.8" ry="3.1" transform="rotate(-25 496 185.5)" fill="#1b1b1b" filter="url(#b1)"/>
<ellipse cx="496" cy="185.5" rx="5.5" ry="2.0" transform="rotate(-25 496 185.5)" fill="#141414" filter="url(#b1)"/>
<ellipse cx="536.3" cy="138" rx="9.1" ry="3.5" transform="rotate(-60 536.3 138)" fill="#414141" filter="url(#b2)"/>
<ellipse cx="536.3" cy="138" rx="4.9" ry="2.0" transform="rotate(-60 536.3 138)" fill="#1b1b1b" filter="url(#b1)"/>
<ellipse cx="536.3" cy="138" rx="3.6" ry="0.9" transform="rotate(-60 536.3 138)" fill="#181818" filter="url(#b1)"/>
<ellipse cx="534.3" cy="172.3" rx="7.9" ry="3.1" transform="rotate(-60 534.3 172.3)" fill="#414141" filter="url(#b2)"/>
<ellipse cx="534.3" cy="172.3" rx="4.7" ry="2.0" transform="rotate(-60 534.3 172.3)" fill="#1b1b1b" filter="url(#b1)"/>
<ellipse cx="534.3" cy="172.3" rx="3.4" ry="0.9" transform="rotate(-60 534.3 172.3)" fill="#181818" filter="url(#b1)"/>
<ellipse cx="566" cy="118.5" rx="10" ry="3.6" transform="rotate(-60 566 118.5)" fill="#1b1b1b" filter="url(#b1)"/>
<path d="M547.0,161.0 L546.4,154.2 L551.0,144.8 L557.8,138.0 L566.8,132.0 L575.0,128.0 L575.0,143.0 L566.8,148.8 L560.5,156.2 L553.8,162.3 L548.4,163.0 Z" fill="#919191" stroke="#919191" stroke-width="10" stroke-linejoin="round" filter="url(#b2)"/>
<path d="M547.0,161.0 L546.4,154.2 L551.0,144.8 L557.8,138.0 L566.8,132.0 L575.0,128.0 L575.0,143.0 L566.8,148.8 L560.5,156.2 L553.8,162.3 L548.4,163.0 Z" fill="#bababa" stroke="#bababa" stroke-width="6.4" stroke-linejoin="round" filter="url(#b1)"/>
<path d="M547.0,161.0 L546.4,154.2 L551.0,144.8 L557.8,138.0 L566.8,132.0 L575.0,128.0 L575.0,143.0 L566.8,148.8 L560.5,156.2 L553.8,162.3 L548.4,163.0 Z" fill="#e6e6e6" stroke="#e6e6e6" stroke-width="3.4" stroke-linejoin="round" filter="url(#b1)"/>
<path d="M547.0,161.0 L546.4,154.2 L551.0,144.8 L557.8,138.0 L566.8,132.0 L575.0,128.0 L575.0,143.0 L566.8,148.8 L560.5,156.2 L553.8,162.3 L548.4,163.0 Z" fill="#ffffff"/>
<path d="M540.3,199.0 L541.7,191.8 L547.0,183.8 L556.5,174.4 L566.8,166.0 L575.0,160.0 L575.0,205.0 L540.0,205.0 Z" fill="#919191" stroke="#919191" stroke-width="10" stroke-linejoin="round" filter="url(#b2)"/>
<path d="M540.3,199.0 L541.7,191.8 L547.0,183.8 L556.5,174.4 L566.8,166.0 L575.0,160.0 L575.0,205.0 L540.0,205.0 Z" fill="#bababa" stroke="#bababa" stroke-width="6.4" stroke-linejoin="round" filter="url(#b1)"/>
<path d="M540.3,199.0 L541.7,191.8 L547.0,183.8 L556.5,174.4 L566.8,166.0 L575.0,160.0 L575.0,205.0 L540.0,205.0 Z" fill="#e6e6e6" stroke="#e6e6e6" stroke-width="3.4" stroke-linejoin="round" filter="url(#b1)"/>
<path d="M540.3,199.0 L541.7,191.8 L547.0,183.8 L556.5,174.4 L566.8,166.0 L575.0,160.0 L575.0,205.0 L540.0,205.0 Z" fill="#ffffff"/>
<path d="M554.0,198.5 L561.0,195.0 L568.0,190.3" fill="none" stroke="#e2e2e2" stroke-width="1.6" stroke-linecap="round" stroke-linejoin="round"/>
<ellipse cx="554" cy="169" rx="8" ry="2.0" transform="rotate(-35 554 169)" fill="#3f3f3f" filter="url(#b1)"/>
<ellipse cx="554" cy="169" rx="3.2" ry="0.9" transform="rotate(-35 554 169)" fill="#101010" filter="url(#b1)"/>
</g>
<circle cx="477.3" cy="119.4" r="34.2" fill="#ff0000"/>
</g>

<g class="serif" fill="#fff" font-weight="bold" font-size="15.8">
<text x="397" y="38.6">Boundary</text>
<text x="397" y="57.2">nodes and</text>
<text x="397" y="75">elements</text>
</g>
<text class="serif" x="478" y="230.4" font-size="16.8" font-weight="bold">(b)</text>
</g>

<!-- panel (c) -->
<g id="panel-c">
<g clip-path="url(#clipc)" fill="none">
<path d="M37.8,372.8 L38.1,372.8 L38.4,372.8 L38.7,372.8 L39.0,372.8 L39.3,372.8 L39.5,372.8 L39.8,372.8 L40.1,372.8 L40.4,372.8 L40.7,372.8 L41.0,372.8 L41.3,372.8 L41.6,372.8 L41.9,372.8 L42.2,372.8 L42.5,372.8 L42.8,372.8 L43.0,372.8 L43.3,372.8 L43.6,372.8 L43.9,372.8 L44.2,372.8 L44.5,372.8 L44.8,372.8 L45.1,372.8 L45.4,372.8 L45.7,372.8 L46.0,372.8 L46.3,372.8 L46.5,372.8 L46.8,372.8 L47.1,372.8 L47.4,372.8 L47.7,372.8 L48.0,372.8 L48.3,372.8 L48.6,372.8 L48.9,372.8 L49.2,372.8 L49.5,372.8 L49.7,372.8 L50.0,372.8 L50.3,372.8 L50.6,372.8 L50.9,372.8 L51.2,372.8 L51.5,372.8 L51.8,372.8 L52.1,372.8 L52.4,372.8 L52.7,372.8 L53.0,372.8 L53.2,372.8 L53.5,372.8 L53.8,372.8 L54.1,372.8 L54.4,372.8 L54.7,372.8 L55.0,372.8 L55.3,372.8 L55.6,372.8 L55.9,372.8 L56.2,372.8 L56.5,372.8 L56.7,372.8 L57.0,372.8 L57.3,372.8 L57.6,372.8 L57.9,372.8 L58.2,372.8 L58.5,372.8 L58.8,372.8 L59.1,372.8 L59.4,372.8 L59.7,372.8 L59.9,372.8 L60.2,372.8 L60.5,372.8 L60.8,372.8 L61.1,372.8 L61.4,372.8 L61.7,372.8 L62.0,372.8 L62.3,372.8 L62.6,372.8 L62.9,372.8 L63.2,372.8 L63.4,372.8 L63.7,372.8 L64.0,372.8 L64.3,372.8 L64.6,372.8 L64.9,372.8 L65.2,372.8 L65.5,372.8 L65.8,372.8 L66.1,372.8 L66.4,372.8 L66.7,372.8 L66.9,372.8 L67.2,372.8 L67.5,372.8 L67.8,372.8 L68.1,372.8 L68.4,372.8 L68.7,372.8 L69.0,372.8 L69.3,372.8 L69.6,372.8 L69.9,372.8 L70.1,372.8 L70.4,372.8 L70.7,372.8 L71.0,372.8 L71.3,372.8 L71.6,372.8 L71.9,372.8 L72.2,372.8 L72.5,372.8 L72.8,372.8 L73.1,372.8 L73.4,372.8 L73.6,372.8 L73.9,372.8 L74.2,372.8 L74.5,372.8 L74.8,372.8 L75.1,372.8 L75.4,372.8 L75.7,372.8 L76.0,372.8 L76.3,372.8 L76.6,372.8 L76.9,372.8 L77.1,372.8 L77.4,372.8 L77.7,372.8 L78.0,372.8 L78.3,372.8 L78.6,372.8 L78.9,372.8 L79.2,372.8 L79.5,372.8 L79.8,372.8 L80.1,372.8 L80.3,372.8 L80.6,372.8 L80.9,372.8 L81.2,372.8 L81.5,372.8 L81.8,372.8 L82.1,372.8 L82.4,372.8 L82.7,372.8 L83.0,372.8 L83.3,372.8 L83.6,372.8 L83.8,372.8 L84.1,372.8 L84.4,372.8 L84.7,372.8 L85.0,372.8 L85.3,372.8 L85.6,372.8 L85.9,372.8 L86.2,372.8 L86.5,372.8 L86.8,372.8 L87.1,372.8 L87.3,372.8 L87.6,372.8 L87.9,372.8 L88.2,372.8 L88.5,372.8 L88.8,372.8 L89.1,372.8 L89.4,372.8 L89.7,372.8 L90.0,372.8 L90.3,372.8 L90.5,372.8 L90.8,372.8 L91.1,372.8 L91.4,372.8 L91.7,372.8 L92.0,372.8 L92.3,372.8 L92.6,372.8 L92.9,372.8 L93.2,372.8 L93.5,372.8 L93.8,372.8 L94.0,372.8 L94.3,372.8 L94.6,372.8 L94.9,372.8 L95.2,372.8 L95.5,372.8 L95.8,372.8 L96.1,372.8 L96.4,372.8 L96.7,372.8 L97.0,372.7 L97.3,372.7 L97.5,372.7 L97.8,372.7 L98.1,372.7 L98.4,372.7 L98.7,372.7 L99.0,372.7 L99.3,372.7 L99.6,372.7 L99.9,372.7 L100.2,372.7 L100.5,372.7 L100.7,372.7 L101.0,372.6 L101.3,372.6 L101.6,372.6 L101.9,372.6 L102.2,372.6 L102.5,372.6 L102.8,372.6 L103.1,372.5 L103.4,372.5 L103.7,372.5 L104.0,372.5 L104.2,372.5 L104.5,372.5 L104.8,372.5 L105.1,372.4 L105.4,372.4 L105.7,372.4 L106.0,372.4 L106.3,372.4 L106.6,372.4 L106.9,372.4 L107.2,372.4 L107.5,372.3 L107.7,372.3 L108.0,372.3 L108.3,372.3 L108.6,372.3 L108.9,372.3 L109.2,372.3 L109.5,372.3 L109.8,372.3 L110.1,372.3 L110.4,372.3 L110.7,372.3 L111.0,372.3 L111.2,372.4 L111.5,372.4 L111.8,372.4 L112.1,372.4 L112.4,372.5 L112.7,372.5 L113.0,372.5 L113.3,372.5 L113.6,372.6 L113.9,372.6 L114.2,372.6 L114.4,372.7 L114.7,372.7 L115.0,372.7 L115.3,372.7 L115.6,372.7 L115.9,372.7 L116.2,372.7 L116.5,372.8 L116.8,372.8 L117.1,372.8 L117.4,372.9 L117.7,373.0 L117.9,373.1 L118.2,373.3 L118.5,373.4 L118.8,373.6 L119.1,373.7 L119.4,373.9 L119.7,374.0 L120.0,374.1 L120.3,374.2 L120.6,374.3 L120.9,374.3 L121.2,374.3 L121.4,374.2 L121.7,373.9 L122.0,373.6 L122.3,373.2 L122.6,372.7 L122.9,372.2 L123.2,371.6 L123.5,370.9 L123.8,370.2 L124.1,369.4 L124.4,368.7 L124.6,367.9 L124.9,367.2 L125.2,366.5 L125.5,365.9 L125.8,365.3 L126.1,364.8 L126.4,364.3 L126.7,364.0 L127.0,363.7 L127.3,363.6 L127.6,363.6 L127.9,363.7 L128.1,364.0 L128.4,364.6 L128.7,365.3 L129.0,366.2 L129.3,367.3 L129.6,368.6 L129.9,370.0 L130.2,371.5 L130.5,373.1 L130.8,374.8 L131.1,376.6 L131.4,378.4 L131.6,380.2 L131.9,382.0 L132.2,383.7 L132.5,385.4 L132.8,387.0 L133.1,388.5 L133.4,389.9 L133.7,391.1 L134.0,392.2 L134.3,393.1 L134.6,393.8 L134.8,394.3 L135.1,394.6 L135.4,394.6 L135.7,394.4 L136.0,393.9 L136.3,393.1 L136.6,392.0 L136.9,390.5 L137.2,388.9 L137.5,386.9 L137.8,384.7 L138.1,382.3 L138.3,379.7 L138.6,376.9 L138.9,374.0 L139.2,370.9 L139.5,367.8 L139.8,364.6 L140.1,361.4 L140.4,358.3 L140.7,355.1 L141.0,352.1 L141.3,349.1 L141.6,346.3 L141.8,343.6 L142.1,341.2 L142.4,338.9 L142.7,336.9 L143.0,335.2 L143.3,333.7 L143.6,332.5 L143.9,331.6 L144.2,331.0 L144.5,330.7 L144.8,330.8 L145.0,331.5 L145.3,332.7 L145.6,334.5 L145.9,336.8 L146.2,339.6 L146.5,342.9 L146.8,346.6 L147.1,350.7 L147.4,355.1 L147.7,359.8 L148.0,364.8 L148.3,369.9 L148.5,375.1 L148.8,380.5 L149.1,385.8 L149.4,391.0 L149.7,396.1 L150.0,401.1 L150.3,405.7 L150.6,410.1 L150.9,414.2 L151.2,417.9 L151.5,421.1 L151.8,423.8 L152.0,426.1 L152.3,427.8 L152.6,429.0 L152.9,429.6 L153.2,429.6 L153.5,428.9 L153.8,427.5 L154.1,425.5 L154.4,422.8 L154.7,419.4 L155.0,415.4 L155.2,410.9 L155.5,405.9 L155.8,400.5 L156.1,394.7 L156.4,388.6 L156.7,382.2 L157.0,375.7 L157.3,369.1 L157.6,362.4 L157.9,355.9 L158.2,349.4 L158.5,343.2 L158.7,337.3 L159.0,331.7 L159.3,326.6 L159.6,321.9 L159.9,317.7 L160.2,314.2 L160.5,311.2 L160.8,308.9 L161.1,307.3 L161.4,306.4 L161.7,306.2 L162.0,306.8 L162.2,308.1 L162.5,310.1 L162.8,312.8 L163.1,316.2 L163.4,320.2 L163.7,324.8 L164.0,330.0 L164.3,335.6 L164.6,341.7 L164.9,348.1 L165.2,354.7 L165.4,361.6 L165.7,368.5 L166.0,375.5 L166.3,382.4 L166.6,389.2 L166.9,395.8 L167.2,402.2 L167.5,408.1 L167.8,413.6 L168.1,418.7 L168.4,423.2 L168.7,427.1 L168.9,430.3 L169.2,432.9 L169.5,434.7 L169.8,435.9 L170.1,436.2 L170.4,435.9 L170.7,434.9 L171.0,433.2 L171.3,431.0 L171.6,428.1 L171.9,424.6 L172.2,420.7 L172.4,416.2 L172.7,411.3 L173.0,406.0 L173.3,400.4 L173.6,394.6 L173.9,388.5 L174.2,382.4 L174.5,376.2 L174.8,370.0 L175.1,364.0 L175.4,358.1 L175.6,352.5 L175.9,347.1 L176.2,342.1 L176.5,337.6 L176.8,333.5 L177.1,329.9 L177.4,326.9 L177.7,324.5 L178.0,322.7 L178.3,321.6 L178.6,321.1 L178.9,321.3 L179.1,322.0 L179.4,323.3 L179.7,325.1 L180.0,327.5 L180.3,330.3 L180.6,333.6 L180.9,337.3 L181.2,341.4 L181.5,345.7 L181.8,350.3 L182.1,355.0 L182.4,359.9 L182.6,364.8 L182.9,369.7 L183.2,374.5 L183.5,379.2 L183.8,383.6 L184.1,387.8 L184.4,391.6 L184.7,395.1 L185.0,398.1 L185.3,400.7 L185.6,402.7 L185.8,404.2 L186.1,405.2 L186.4,405.6 L186.7,405.5 L187.0,405.0 L187.3,404.2 L187.6,403.2 L187.9,401.8 L188.2,400.1 L188.5,398.1 L188.8,395.9 L189.1,393.5 L189.3,391.0 L189.6,388.3 L189.9,385.4 L190.2,382.6 L190.5,379.7 L190.8,376.8 L191.1,373.9 L191.4,371.2 L191.7,368.6 L192.0,366.1 L192.3,363.8 L192.6,361.8 L192.8,360.0 L193.1,358.5 L193.4,357.3 L193.7,356.5 L194.0,355.9 L194.3,355.7 L194.6,355.7 L194.9,355.9 L195.2,356.2 L195.5,356.7 L195.8,357.3 L196.0,358.0 L196.3,358.8 L196.6,359.7 L196.9,360.7 L197.2,361.8 L197.5,363.0 L197.8,364.2 L198.1,365.4 L198.4,366.7 L198.7,368.0 L199.0,369.3 L199.3,370.6 L199.5,371.8 L199.8,373.0 L200.1,374.1 L200.4,375.2 L200.7,376.2 L201.0,377.0 L201.3,377.8 L201.6,378.4 L201.9,379.0 L202.2,379.4 L202.5,379.6 L202.8,379.7 L203.0,379.7 L203.3,379.6 L203.6,379.4 L203.9,379.1 L204.2,378.7 L204.5,378.3 L204.8,377.7 L205.1,377.2 L205.4,376.5 L205.7,375.8 L206.0,375.1 L206.2,374.4 L206.5,373.7 L206.8,373.1 L207.1,372.4 L207.4,371.8 L207.7,371.3 L208.0,370.8 L208.3,370.4 L208.6,370.1 L208.9,369.9 L209.2,369.7 L209.5,369.7 L209.7,369.7 L210.0,369.8 L210.3,369.8 L210.6,369.9 L210.9,370.1 L211.2,370.2 L211.5,370.4 L211.8,370.6 L212.1,370.8 L212.4,371.0 L212.7,371.3 L213.0,371.5 L213.2,371.8 L213.5,372.0 L213.8,372.3 L214.1,372.5 L214.4,372.8 L214.7,373.0 L215.0,373.2 L215.3,373.4 L215.6,373.6 L215.9,373.7 L216.2,373.9 L216.4,373.9 L216.7,374.0 L217.0,374.1 L217.3,374.1 L217.6,374.1 L217.9,374.0 L218.2,374.0 L218.5,373.9 L218.8,373.9 L219.1,373.8 L219.4,373.7 L219.7,373.6 L219.9,373.6 L220.2,373.4 L220.5,373.3 L220.8,373.2 L221.1,373.1 L221.4,373.0 L221.7,372.9 L222.0,372.8 L222.3,372.7 L222.6,372.6 L222.9,372.5 L223.2,372.4 L223.4,372.3 L223.7,372.2 L224.0,372.2 L224.3,372.1 L224.6,372.1 L224.9,372.1 L225.2,372.1 L225.5,372.1 L225.8,372.1 L226.1,372.1 L226.4,372.1 L226.6,372.1 L226.9,372.2 L227.2,372.2 L227.5,372.2 L227.8,372.2 L228.1,372.2 L228.4,372.3 L228.7,372.3 L229.0,372.3 L229.3,372.4 L229.6,372.4 L229.9,372.4 L230.1,372.5 L230.4,372.5 L230.7,372.5 L231.0,372.6 L231.3,372.6 L231.6,372.6 L231.9,372.6 L232.2,372.7 L232.5,372.7 L232.8,372.7 L233.1,372.7 L233.4,372.7 L233.6,372.7 L233.9,372.7 L234.2,372.7 L234.5,372.8 L234.8,372.8 L235.1,372.8 L235.4,372.8 L235.7,372.8 L236.0,372.8 L236.3,372.8 L236.6,372.8 L236.9,372.8 L237.1,372.8 L237.4,372.8 L237.7,372.8 L238.0,372.8 L238.3,372.8 L238.6,372.8 L238.9,372.8 L239.2,372.8 L239.5,372.8 L239.8,372.8 L240.1,372.8 L240.3,372.8 L240.6,372.8 L240.9,372.8 L241.2,372.8 L241.5,372.8 L241.8,372.8 L242.1,372.8 L242.4,372.8 L242.7,372.8 L243.0,372.8 L243.3,372.8 L243.6,372.8 L243.8,372.8 L244.1,372.8 L244.4,372.8 L244.7,372.8 L245.0,372.8 L245.3,372.8 L245.6,372.8 L245.9,372.8 L246.2,372.8 L246.5,372.8 L246.8,372.8 L247.1,372.8 L247.3,372.8 L247.6,372.8 L247.9,372.8 L248.2,372.8 L248.5,372.8 L248.8,372.8 L249.1,372.8 L249.4,372.8 L249.7,372.8 L250.0,372.8 L250.3,372.8 L250.5,372.8 L250.8,372.8 L251.1,372.8 L251.4,372.8 L251.7,372.8 L252.0,372.8 L252.3,372.8 L252.6,372.8 L252.9,372.8 L253.2,372.8 L253.5,372.8 L253.8,372.8 L254.0,372.8 L254.3,372.8 L254.6,372.8 L254.9,372.8 L255.2,372.8 L255.5,372.8 L255.8,372.8 L256.1,372.8 L256.4,372.8 L256.7,372.8 L257.0,372.8 L257.3,372.8 L257.5,372.8 L257.8,372.8 L258.1,372.8 L258.4,372.8 L258.7,372.8 L259.0,372.8 L259.3,372.8 L259.6,372.8 L259.9,372.8 L260.2,372.8 L260.5,372.8 L260.7,372.8 L261.0,372.8 L261.3,372.8 L261.6,372.8 L261.9,372.8 L262.2,372.8 L262.5,372.8 L262.8,372.8 L263.1,372.8 L263.4,372.8 L263.7,372.8 L264.0,372.8 L264.2,372.8 L264.5,372.8 L264.8,372.8 L265.1,372.8 L265.4,372.8 L265.7,372.8 L266.0,372.8 L266.3,372.8 L266.6,372.8 L266.9,372.8 L267.2,372.8 L267.5,372.8 L267.7,372.8 L268.0,372.8 L268.3,372.8 L268.6,372.8 L268.9,372.8 L269.2,372.8 L269.5,372.8 L269.8,372.8 L270.1,372.8 L270.4,372.8 L270.7,372.8 L270.9,372.8 L271.2,372.8 L271.5,372.8 L271.8,372.8 L272.1,372.8 L272.4,372.8 L272.7,372.8 L273.0,372.8 L273.3,372.8 L273.6,372.8 L273.9,372.8 L274.2,372.8 L274.4,372.8 L274.7,372.8 L275.0,372.8 L275.3,372.8 L275.6,372.8 L275.9,372.8 L276.2,372.8 L276.5,372.8 L276.8,372.8 L277.1,372.8 L277.4,372.8 L277.7,372.8 L277.9,372.8 L278.2,372.8 L278.5,372.8 L278.8,372.8 L279.1,372.8 L279.4,372.8 L279.7,372.8 L280.0,372.8 L280.3,372.8 L280.6,372.8 L280.9,372.8 L281.1,372.8 L281.4,372.8 L281.7,372.8 L282.0,372.8 L282.3,372.8 L282.6,372.8 L282.9,372.8 L283.2,372.8 L283.5,372.8 L283.8,372.8 L284.1,372.8 L284.4,372.8 L284.6,372.8 L284.9,372.8 L285.2,372.8 L285.5,372.8 L285.8,372.8 L286.1,372.8 L286.4,372.8 L286.7,372.8 L287.0,372.8 L287.3,372.8 L287.6,372.8 L287.9,372.8 L288.1,372.8 L288.4,372.8 L288.7,372.8 L289.0,372.8 L289.3,372.8 L289.6,372.8 L289.9,372.8 L290.2,372.8 L290.5,372.8 L290.8,372.8 L291.1,372.8 L291.3,372.8 L291.6,372.8 L291.9,372.8 L292.2,372.8 L292.5,372.8 L292.8,372.8 L293.1,372.8 L293.4,372.8 L293.7,372.8 L294.0,372.8 L294.3,372.8 L294.6,372.8 L294.8,372.8 L295.1,372.8 L295.4,372.8 L295.7,372.8 L296.0,372.8 L296.3,372.8 L296.6,372.8 L296.9,372.8 L297.2,372.8 L297.5,372.8 L297.8,372.8 L298.1,372.8 L298.3,372.8 L298.6,372.8 L298.9,372.8 L299.2,372.8 L299.5,372.8 L299.8,372.8" stroke="#0000ff" stroke-width="3.0" stroke-linejoin="round"/>
<path d="M37.8,372.8 L38.1,372.8 L38.4,372.8 L38.7,372.8 L39.0,372.8 L39.3,372.8 L39.5,372.8 L39.8,372.8 L40.1,372.8 L40.4,372.8 L40.7,372.8 L41.0,372.8 L41.3,372.8 L41.6,372.8 L41.9,372.8 L42.2,372.8 L42.5,372.8 L42.8,372.8 L43.0,372.8 L43.3,372.8 L43.6,372.8 L43.9,372.8 L44.2,372.8 L44.5,372.8 L44.8,372.8 L45.1,372.8 L45.4,372.8 L45.7,372.8 L46.0,372.8 L46.3,372.8 L46.5,372.8 L46.8,372.8 L47.1,372.8 L47.4,372.8 L47.7,372.8 L48.0,372.8 L48.3,372.8 L48.6,372.8 L48.9,372.8 L49.2,372.8 L49.5,372.8 L49.7,372.8 L50.0,372.8 L50.3,372.8 L50.6,372.8 L50.9,372.8 L51.2,372.8 L51.5,372.8 L51.8,372.8 L52.1,372.8 L52.4,372.8 L52.7,372.8 L53.0,372.8 L53.2,372.8 L53.5,372.8 L53.8,372.8 L54.1,372.8 L54.4,372.8 L54.7,372.8 L55.0,372.8 L55.3,372.8 L55.6,372.8 L55.9,372.8 L56.2,372.8 L56.5,372.8 L56.7,372.8 L57.0,372.8 L57.3,372.8 L57.6,372.8 L57.9,372.8 L58.2,372.8 L58.5,372.8 L58.8,372.8 L59.1,372.8 L59.4,372.8 L59.7,372.8 L59.9,372.8 L60.2,372.8 L60.5,372.8 L60.8,372.8 L61.1,372.8 L61.4,372.8 L61.7,372.8 L62.0,372.8 L62.3,372.8 L62.6,372.8 L62.9,372.8 L63.2,372.8 L63.4,372.8 L63.7,372.8 L64.0,372.8 L64.3,372.8 L64.6,372.8 L64.9,372.8 L65.2,372.8 L65.5,372.8 L65.8,372.8 L66.1,372.8 L66.4,372.8 L66.7,372.8 L66.9,372.8 L67.2,372.8 L67.5,372.8 L67.8,372.8 L68.1,372.8 L68.4,372.8 L68.7,372.8 L69.0,372.8 L69.3,372.8 L69.6,372.8 L69.9,372.8 L70.1,372.8 L70.4,372.8 L70.7,372.8 L71.0,372.8 L71.3,372.8 L71.6,372.8 L71.9,372.8 L72.2,372.8 L72.5,372.8 L72.8,372.8 L73.1,372.8 L73.4,372.8 L73.6,372.8 L73.9,372.8 L74.2,372.8 L74.5,372.8 L74.8,372.8 L75.1,372.8 L75.4,372.8 L75.7,372.8 L76.0,372.8 L76.3,372.8 L76.6,372.8 L76.9,372.8 L77.1,372.8 L77.4,372.8 L77.7,372.8 L78.0,372.8 L78.3,372.8 L78.6,372.8 L78.9,372.8 L79.2,372.8 L79.5,372.8 L79.8,372.8 L80.1,372.8 L80.3,372.8 L80.6,372.8 L80.9,372.8 L81.2,372.8 L81.5,372.8 L81.8,372.8 L82.1,372.8 L82.4,372.8 L82.7,372.8 L83.0,372.8 L83.3,372.8 L83.6,372.8 L83.8,372.8 L84.1,372.8 L84.4,372.8 L84.7,372.8 L85.0,372.8 L85.3,372.8 L85.6,372.8 L85.9,372.8 L86.2,372.8 L86.5,372.8 L86.8,372.8 L87.1,372.8 L87.3,372.8 L87.6,372.8 L87.9,372.8 L88.2,372.8 L88.5,372.8 L88.8,372.8 L89.1,372.8 L89.4,372.8 L89.7,372.8 L90.0,372.8 L90.3,372.8 L90.5,372.8 L90.8,372.8 L91.1,372.8 L91.4,372.8 L91.7,372.8 L92.0,372.8 L92.3,372.8 L92.6,372.8 L92.9,372.8 L93.2,372.8 L93.5,372.8 L93.8,372.8 L94.0,372.8 L94.3,372.8 L94.6,372.8 L94.9,372.8 L95.2,372.8 L95.5,372.8 L95.8,372.8 L96.1,372.8 L96.4,372.8 L96.7,372.8 L97.0,372.7 L97.3,372.7 L97.5,372.7 L97.8,372.7 L98.1,372.7 L98.4,372.7 L98.7,372.7 L99.0,372.7 L99.3,372.7 L99.6,372.7 L99.9,372.7 L100.2,372.7 L100.5,372.7 L100.7,372.7 L101.0,372.6 L101.3,372.6 L101.6,372.6 L101.9,372.6 L102.2,372.6 L102.5,372.6 L102.8,372.6 L103.1,372.6 L103.4,372.5 L103.7,372.5 L104.0,372.5 L104.2,372.5 L104.5,372.5 L104.8,372.5 L105.1,372.5 L105.4,372.4 L105.7,372.4 L106.0,372.4 L106.3,372.4 L106.6,372.4 L106.9,372.4 L107.2,372.4 L107.5,372.4 L107.7,372.4 L108.0,372.4 L108.3,372.3 L108.6,372.3 L108.9,372.3 L109.2,372.3 L109.5,372.3 L109.8,372.3 L110.1,372.3 L110.4,372.3 L110.7,372.3 L111.0,372.4 L111.2,372.4 L111.5,372.4 L111.8,372.4 L112.1,372.4 L112.4,372.5 L112.7,372.5 L113.0,372.5 L113.3,372.6 L113.6,372.6 L113.9,372.6 L114.2,372.6 L114.4,372.7 L114.7,372.7 L115.0,372.7 L115.3,372.7 L115.6,372.7 L115.9,372.7 L116.2,372.7 L116.5,372.8 L116.8,372.8 L117.1,372.8 L117.4,372.9 L117.7,373.0 L117.9,373.1 L118.2,373.3 L118.5,373.4 L118.8,373.5 L119.1,373.7 L119.4,373.8 L119.7,373.9 L120.0,374.0 L120.3,374.1 L120.6,374.2 L120.9,374.2 L121.2,374.2 L121.4,374.1 L121.7,373.9 L122.0,373.6 L122.3,373.2 L122.6,372.7 L122.9,372.2 L123.2,371.6 L123.5,371.0 L123.8,370.3 L124.1,369.6 L124.4,368.9 L124.6,368.1 L124.9,367.5 L125.2,366.8 L125.5,366.2 L125.8,365.6 L126.1,365.1 L126.4,364.7 L126.7,364.4 L127.0,364.2 L127.3,364.0 L127.6,364.0 L127.9,364.1 L128.1,364.4 L128.4,364.9 L128.7,365.6 L129.0,366.5 L129.3,367.6 L129.6,368.8 L129.9,370.1 L130.2,371.5 L130.5,373.1 L130.8,374.7 L131.1,376.4 L131.4,378.1 L131.6,379.9 L131.9,381.6 L132.2,383.3 L132.5,384.9 L132.8,386.4 L133.1,387.8 L133.4,389.1 L133.7,390.3 L134.0,391.3 L134.3,392.2 L134.6,392.8 L134.8,393.3 L135.1,393.6 L135.4,393.7 L135.7,393.5 L136.0,393.0 L136.3,392.2 L136.6,391.1 L136.9,389.7 L137.2,388.1 L137.5,386.3 L137.8,384.2 L138.1,381.8 L138.3,379.3 L138.6,376.7 L138.9,373.9 L139.2,371.0 L139.5,368.0 L139.8,365.0 L140.1,361.9 L140.4,358.9 L140.7,355.9 L141.0,353.0 L141.3,350.2 L141.6,347.5 L141.8,345.0 L142.1,342.6 L142.4,340.5 L142.7,338.5 L143.0,336.9 L143.3,335.4 L143.6,334.3 L143.9,333.4 L144.2,332.9 L144.5,332.6 L144.8,332.7 L145.0,333.4 L145.3,334.5 L145.6,336.2 L145.9,338.4 L146.2,341.1 L146.5,344.2 L146.8,347.7 L147.1,351.6 L147.4,355.9 L147.7,360.4 L148.0,365.1 L148.3,370.0 L148.5,375.0 L148.8,380.1 L149.1,385.2 L149.4,390.2 L149.7,395.1 L150.0,399.8 L150.3,404.3 L150.6,408.5 L150.9,412.3 L151.2,415.8 L151.5,418.9 L151.8,421.5 L152.0,423.7 L152.3,425.3 L152.6,426.4 L152.9,427.0 L153.2,427.0 L153.5,426.4 L153.8,425.1 L154.1,423.1 L154.4,420.5 L154.7,417.3 L155.0,413.5 L155.2,409.2 L155.5,404.4 L155.8,399.3 L156.1,393.7 L156.4,387.8 L156.7,381.8 L157.0,375.5 L157.3,369.2 L157.6,362.9 L157.9,356.6 L158.2,350.5 L158.5,344.5 L158.7,338.9 L159.0,333.6 L159.3,328.6 L159.6,324.2 L159.9,320.2 L160.2,316.8 L160.5,314.0 L160.8,311.8 L161.1,310.3 L161.4,309.4 L161.7,309.2 L162.0,309.7 L162.2,311.0 L162.5,312.9 L162.8,315.5 L163.1,318.7 L163.4,322.6 L163.7,327.0 L164.0,331.9 L164.3,337.3 L164.6,343.1 L164.9,349.2 L165.2,355.5 L165.4,362.1 L165.7,368.7 L166.0,375.4 L166.3,382.0 L166.6,388.5 L166.9,394.8 L167.2,400.8 L167.5,406.5 L167.8,411.8 L168.1,416.6 L168.4,420.9 L168.7,424.6 L168.9,427.7 L169.2,430.2 L169.5,431.9 L169.8,433.0 L170.1,433.4 L170.4,433.0 L170.7,432.1 L171.0,430.5 L171.3,428.3 L171.6,425.6 L171.9,422.3 L172.2,418.5 L172.4,414.2 L172.7,409.5 L173.0,404.5 L173.3,399.2 L173.6,393.6 L173.9,387.8 L174.2,382.0 L174.5,376.1 L174.8,370.2 L175.1,364.4 L175.4,358.8 L175.6,353.4 L175.9,348.3 L176.2,343.5 L176.5,339.1 L176.8,335.2 L177.1,331.8 L177.4,329.0 L177.7,326.7 L178.0,325.0 L178.3,323.9 L178.6,323.4 L178.9,323.6 L179.1,324.3 L179.4,325.5 L179.7,327.3 L180.0,329.5 L180.3,332.2 L180.6,335.4 L180.9,338.9 L181.2,342.8 L181.5,346.9 L181.8,351.3 L182.1,355.8 L182.4,360.5 L182.6,365.2 L182.9,369.9 L183.2,374.5 L183.5,378.9 L183.8,383.1 L184.1,387.1 L184.4,390.8 L184.7,394.1 L185.0,397.0 L185.3,399.4 L185.6,401.4 L185.8,402.8 L186.1,403.7 L186.4,404.1 L186.7,404.0 L187.0,403.6 L187.3,402.8 L187.6,401.8 L187.9,400.4 L188.2,398.8 L188.5,397.0 L188.8,394.9 L189.1,392.6 L189.3,390.1 L189.6,387.6 L189.9,384.9 L190.2,382.1 L190.5,379.4 L190.8,376.6 L191.1,373.9 L191.4,371.3 L191.7,368.8 L192.0,366.4 L192.3,364.2 L192.6,362.3 L192.8,360.6 L193.1,359.2 L193.4,358.0 L193.7,357.2 L194.0,356.7 L194.3,356.4 L194.6,356.5 L194.9,356.7 L195.2,357.0 L195.5,357.4 L195.8,358.0 L196.0,358.6 L196.3,359.4 L196.6,360.3 L196.9,361.3 L197.2,362.3 L197.5,363.4 L197.8,364.6 L198.1,365.8 L198.4,367.0 L198.7,368.2 L199.0,369.5 L199.3,370.7 L199.5,371.9 L199.8,373.0 L200.1,374.1 L200.4,375.1 L200.7,376.0 L201.0,376.8 L201.3,377.6 L201.6,378.2 L201.9,378.7 L202.2,379.1 L202.5,379.3 L202.8,379.4 L203.0,379.4 L203.3,379.3 L203.6,379.1 L203.9,378.8 L204.2,378.5 L204.5,378.0 L204.8,377.5 L205.1,377.0 L205.4,376.3 L205.7,375.7 L206.0,375.0 L206.2,374.4 L206.5,373.7 L206.8,373.1 L207.1,372.4 L207.4,371.9 L207.7,371.3 L208.0,370.9 L208.3,370.5 L208.6,370.2 L208.9,370.0 L209.2,369.9 L209.5,369.8 L209.7,369.8 L210.0,369.9 L210.3,370.0 L210.6,370.1 L210.9,370.2 L211.2,370.3 L211.5,370.5 L211.8,370.7 L212.1,370.9 L212.4,371.1 L212.7,371.4 L213.0,371.6 L213.2,371.8 L213.5,372.1 L213.8,372.3 L214.1,372.6 L214.4,372.8 L214.7,373.0 L215.0,373.2 L215.3,373.4 L215.6,373.5 L215.9,373.7 L216.2,373.8 L216.4,373.9 L216.7,374.0 L217.0,374.0 L217.3,374.0 L217.6,374.0 L217.9,374.0 L218.2,373.9 L218.5,373.9 L218.8,373.8 L219.1,373.8 L219.4,373.7 L219.7,373.6 L219.9,373.5 L220.2,373.4 L220.5,373.3 L220.8,373.2 L221.1,373.1 L221.4,373.0 L221.7,372.9 L222.0,372.8 L222.3,372.7 L222.6,372.6 L222.9,372.5 L223.2,372.4 L223.4,372.3 L223.7,372.3 L224.0,372.2 L224.3,372.2 L224.6,372.1 L224.9,372.1 L225.2,372.1 L225.5,372.1 L225.8,372.1 L226.1,372.1 L226.4,372.2 L226.6,372.2 L226.9,372.2 L227.2,372.2 L227.5,372.2 L227.8,372.2 L228.1,372.3 L228.4,372.3 L228.7,372.3 L229.0,372.4 L229.3,372.4 L229.6,372.4 L229.9,372.5 L230.1,372.5 L230.4,372.5 L230.7,372.5 L231.0,372.6 L231.3,372.6 L231.6,372.6 L231.9,372.6 L232.2,372.7 L232.5,372.7 L232.8,372.7 L233.1,372.7 L233.4,372.7 L233.6,372.7 L233.9,372.7 L234.2,372.7 L234.5,372.8 L234.8,372.8 L235.1,372.8 L235.4,372.8 L235.7,372.8 L236.0,372.8 L236.3,372.8 L236.6,372.8 L236.9,372.8 L237.1,372.8 L237.4,372.8 L237.7,372.8 L238.0,372.8 L238.3,372.8 L238.6,372.8 L238.9,372.8 L239.2,372.8 L239.5,372.8 L239.8,372.8 L240.1,372.8 L240.3,372.8 L240.6,372.8 L240.9,372.8 L241.2,372.8 L241.5,372.8 L241.8,372.8 L242.1,372.8 L242.4,372.8 L242.7,372.8 L243.0,372.8 L243.3,372.8 L243.6,372.8 L243.8,372.8 L244.1,372.8 L244.4,372.8 L244.7,372.8 L245.0,372.8 L245.3,372.8 L245.6,372.8 L245.9,372.8 L246.2,372.8 L246.5,372.8 L246.8,372.8 L247.1,372.8 L247.3,372.8 L247.6,372.8 L247.9,372.8 L248.2,372.8 L248.5,372.8 L248.8,372.8 L249.1,372.8 L249.4,372.8 L249.7,372.8 L250.0,372.8 L250.3,372.8 L250.5,372.8 L250.8,372.8 L251.1,372.8 L251.4,372.8 L251.7,372.8 L252.0,372.8 L252.3,372.8 L252.6,372.8 L252.9,372.8 L253.2,372.8 L253.5,372.8 L253.8,372.8 L254.0,372.8 L254.3,372.8 L254.6,372.8 L254.9,372.8 L255.2,372.8 L255.5,372.8 L255.8,372.8 L256.1,372.8 L256.4,372.8 L256.7,372.8 L257.0,372.8 L257.3,372.8 L257.5,372.8 L257.8,372.8 L258.1,372.8 L258.4,372.8 L258.7,372.8 L259.0,372.8 L259.3,372.8 L259.6,372.8 L259.9,372.8 L260.2,372.8 L260.5,372.8 L260.7,372.8 L261.0,372.8 L261.3,372.8 L261.6,372.8 L261.9,372.8 L262.2,372.8 L262.5,372.8 L262.8,372.8 L263.1,372.8 L263.4,372.8 L263.7,372.8 L264.0,372.8 L264.2,372.8 L264.5,372.8 L264.8,372.8 L265.1,372.8 L265.4,372.8 L265.7,372.8 L266.0,372.8 L266.3,372.8 L266.6,372.8 L266.9,372.8 L267.2,372.8 L267.5,372.8 L267.7,372.8 L268.0,372.8 L268.3,372.8 L268.6,372.8 L268.9,372.8 L269.2,372.8 L269.5,372.8 L269.8,372.8 L270.1,372.8 L270.4,372.8 L270.7,372.8 L270.9,372.8 L271.2,372.8 L271.5,372.8 L271.8,372.8 L272.1,372.8 L272.4,372.8 L272.7,372.8 L273.0,372.8 L273.3,372.8 L273.6,372.8 L273.9,372.8 L274.2,372.8 L274.4,372.8 L274.7,372.8 L275.0,372.8 L275.3,372.8 L275.6,372.8 L275.9,372.8 L276.2,372.8 L276.5,372.8 L276.8,372.8 L277.1,372.8 L277.4,372.8 L277.7,372.8 L277.9,372.8 L278.2,372.8 L278.5,372.8 L278.8,372.8 L279.1,372.8 L279.4,372.8 L279.7,372.8 L280.0,372.8 L280.3,372.8 L280.6,372.8 L280.9,372.8 L281.1,372.8 L281.4,372.8 L281.7,372.8 L282.0,372.8 L282.3,372.8 L282.6,372.8 L282.9,372.8 L283.2,372.8 L283.5,372.8 L283.8,372.8 L284.1,372.8 L284.4,372.8 L284.6,372.8 L284.9,372.8 L285.2,372.8 L285.5,372.8 L285.8,372.8 L286.1,372.8 L286.4,372.8 L286.7,372.8 L287.0,372.8 L287.3,372.8 L287.6,372.8 L287.9,372.8 L288.1,372.8 L288.4,372.8 L288.7,372.8 L289.0,372.8 L289.3,372.8 L289.6,372.8 L289.9,372.8 L290.2,372.8 L290.5,372.8 L290.8,372.8 L291.1,372.8 L291.3,372.8 L291.6,372.8 L291.9,372.8 L292.2,372.8 L292.5,372.8 L292.8,372.8 L293.1,372.8 L293.4,372.8 L293.7,372.8 L294.0,372.8 L294.3,372.8 L294.6,372.8 L294.8,372.8 L295.1,372.8 L295.4,372.8 L295.7,372.8 L296.0,372.8 L296.3,372.8 L296.6,372.8 L296.9,372.8 L297.2,372.8 L297.5,372.8 L297.8,372.8 L298.1,372.8 L298.3,372.8 L298.6,372.8 L298.9,372.8 L299.2,372.8 L299.5,372.8 L299.8,372.8" stroke="#ff0000" stroke-width="2.4" stroke-dasharray="9.6 9.7" stroke-linejoin="round"/>
</g>
<rect x="37.8" y="285.2" width="262.0" height="175.10000000000002" fill="none" stroke="#3c3c3c" stroke-width="1.25"/>
<g stroke="#3c3c3c" stroke-width="1"><line x1="103.3" y1="460.3" x2="103.3" y2="457.3"/><line x1="103.3" y1="285.2" x2="103.3" y2="288.2"/><line x1="168.8" y1="460.3" x2="168.8" y2="457.3"/><line x1="168.8" y1="285.2" x2="168.8" y2="288.2"/><line x1="234.3" y1="460.3" x2="234.3" y2="457.3"/><line x1="234.3" y1="285.2" x2="234.3" y2="288.2"/><line x1="37.8" y1="329.0" x2="40.8" y2="329.0"/><line x1="299.8" y1="329.0" x2="296.8" y2="329.0"/><line x1="37.8" y1="372.8" x2="40.8" y2="372.8"/><line x1="299.8" y1="372.8" x2="296.8" y2="372.8"/><line x1="37.8" y1="416.5" x2="40.8" y2="416.5"/><line x1="299.8" y1="416.5" x2="296.8" y2="416.5"/></g>
<g class="sans" font-size="12.5" fill="#000" stroke="#000" stroke-width="0.25"><text x="37.8" y="475.8" text-anchor="middle">24</text><text x="103.3" y="475.8" text-anchor="middle">25</text><text x="168.8" y="475.8" text-anchor="middle">26</text><text x="234.3" y="475.8" text-anchor="middle">27</text><text x="299.8" y="475.8" text-anchor="middle">28</text><text x="32.6" y="289.6" text-anchor="end">2</text><text x="32.6" y="333.4" text-anchor="end">1</text><text x="32.6" y="377.1" text-anchor="end">0</text><text x="32.6" y="420.9" text-anchor="end">-1</text><text x="32.6" y="464.7" text-anchor="end">-2</text>
<text x="39.2" y="281.2" font-size="16.5">×</text><text x="50.6" y="280.4" font-size="12.8">10<tspan font-size="10" dy="-6.3">-3</tspan></text>
<text x="169.3" y="495.6" text-anchor="middle" font-size="14.6">Time (<tspan font-style="italic" class="serif" font-size="15">μ</tspan>s)</text>
<text transform="translate(10.5,369.8) rotate(-90)" text-anchor="middle" font-size="15.5">Displacement (z)</text>
</g>
<text class="serif" x="63.5" y="306.2" font-size="16.6">p - p</text>
<rect x="195.1" y="296.8" width="92.6" height="39.6" fill="#fff" stroke="#3c3c3c" stroke-width="1.1"/>
<line x1="202.3" y1="307.6" x2="239.6" y2="307.6" stroke="#0000ff" stroke-width="2.6"/>
<line x1="202.3" y1="325.1" x2="239.6" y2="325.1" stroke="#ff0000" stroke-width="2.6" stroke-dasharray="9.7 9.5"/>
<g class="sans" font-size="13.2" fill="#000" stroke="#000" stroke-width="0.25"><text x="243" y="312.7">Theory</text><text x="243" y="329.7">FE-BI</text></g>
<text class="serif" x="172.2" y="516.6" font-size="16" font-weight="bold" text-anchor="middle">(c)</text>
</g>

<!-- panel (d) -->
<g id="panel-d">
<g clip-path="url(#clipd)" fill="none">
<path d="M359.7,412.6 L360.3,412.6 L361.0,412.7 L361.6,412.8 L362.2,413.0 L362.8,413.2 L363.5,413.5 L364.1,413.8 L364.7,414.0 L365.3,414.3 L366.0,414.7 L366.6,415.0 L367.2,415.3 L367.9,415.7 L368.5,416.0 L369.1,416.4 L369.7,416.8 L370.4,417.2 L371.0,417.7 L371.6,418.2 L372.2,418.7 L372.9,419.2 L373.5,419.7 L374.1,420.3 L374.8,420.9 L375.4,421.4 L376.0,422.0 L376.6,422.6 L377.3,423.2 L377.9,423.9 L378.5,424.5 L379.1,425.1 L379.8,425.7 L380.4,426.3 L381.0,426.9 L381.7,427.6 L382.3,428.2 L382.9,428.8 L383.5,429.5 L384.2,430.1 L384.8,430.8 L385.4,431.4 L386.0,432.1 L386.7,432.7 L387.3,433.4 L387.9,434.0 L388.6,434.7 L389.2,435.3 L389.8,436.0 L390.4,436.6 L391.1,437.2 L391.7,437.8 L392.3,438.5 L392.9,439.1 L393.6,439.7 L394.2,440.3 L394.8,441.0 L395.5,441.6 L396.1,442.2 L396.7,442.8 L397.3,443.4 L398.0,444.0 L398.6,444.5 L399.2,445.1 L399.8,445.7 L400.5,446.2 L401.1,446.8 L401.7,447.3 L402.4,447.8 L403.0,448.3 L403.6,448.9 L404.2,449.4 L404.9,449.9 L405.5,450.4 L406.1,450.9 L406.7,451.4 L407.4,451.8 L408.0,452.3 L408.6,452.7 L409.3,453.1 L409.9,453.5 L410.5,453.9 L411.1,454.2 L411.8,454.5 L412.4,454.8 L413.0,455.1 L413.6,455.4 L414.3,455.6 L414.9,455.8 L415.5,456.1 L416.2,456.3 L416.8,456.5 L417.4,456.7 L418.0,456.8 L418.7,457.0 L419.3,457.1 L419.9,457.1 L420.5,457.2 L421.2,457.2 L421.8,457.2 L422.4,457.1 L423.1,457.0 L423.7,456.9 L424.3,456.8 L424.9,456.7 L425.6,456.5 L426.2,456.4 L426.8,456.2 L427.5,456.0 L428.1,455.8 L428.7,455.6 L429.3,455.4 L430.0,455.2 L430.6,455.0 L431.2,454.8 L431.8,454.6 L432.5,454.4 L433.1,454.2 L433.7,454.0 L434.4,453.7 L435.0,453.5 L435.6,453.3 L436.2,453.0 L436.9,452.7 L437.5,452.5 L438.1,452.2 L438.7,451.9 L439.4,451.6 L440.0,451.3 L440.6,451.0 L441.3,450.6 L441.9,450.2 L442.5,449.8 L443.1,449.3 L443.8,448.7 L444.4,448.0 L445.0,447.2 L445.6,446.3 L446.3,445.2 L446.9,444.0 L447.5,442.7 L448.2,441.1 L448.8,439.3 L449.4,437.4 L450.0,435.4 L450.7,433.2 L451.3,431.0 L451.9,428.6 L452.5,426.3 L453.2,423.8 L453.8,421.3 L454.4,418.8 L455.1,416.2 L455.7,413.6 L456.3,411.0 L456.9,408.3 L457.6,405.6 L458.2,402.9 L458.8,400.2 L459.4,397.5 L460.1,394.7 L460.7,392.0 L461.3,389.2 L462.0,386.5 L462.6,383.7 L463.2,380.9 L463.8,378.2 L464.5,375.5 L465.1,372.8 L465.7,370.1 L466.3,367.5 L467.0,364.9 L467.6,362.4 L468.2,359.9 L468.9,357.5 L469.5,355.1 L470.1,352.8 L470.7,350.6 L471.4,348.4 L472.0,346.2 L472.6,344.1 L473.2,342.0 L473.9,340.0 L474.5,338.0 L475.1,336.1 L475.8,334.3 L476.4,332.5 L477.0,330.9 L477.6,329.3 L478.3,327.8 L478.9,326.5 L479.5,325.3 L480.1,324.1 L480.8,323.1 L481.4,322.3 L482.0,321.5 L482.7,320.9 L483.3,320.3 L483.9,319.9 L484.5,319.6 L485.2,319.3 L485.8,319.1 L486.4,319.0 L487.0,319.1 L487.7,319.2 L488.3,319.4 L488.9,319.7 L489.6,320.1 L490.2,320.6 L490.8,321.2 L491.4,321.8 L492.1,322.6 L492.7,323.5 L493.3,324.5 L493.9,325.6 L494.6,326.9 L495.2,328.2 L495.8,329.7 L496.5,331.4 L497.1,333.1 L497.7,335.0 L498.3,336.9 L499.0,339.0 L499.6,341.2 L500.2,343.5 L500.8,345.9 L501.5,348.4 L502.1,350.9 L502.7,353.5 L503.4,356.1 L504.0,358.7 L504.6,361.4 L505.2,364.1 L505.9,366.8 L506.5,369.6 L507.1,372.3 L507.7,375.1 L508.4,377.9 L509.0,380.6 L509.6,383.3 L510.3,386.1 L510.9,388.8 L511.5,391.5 L512.1,394.2 L512.8,396.9 L513.4,399.6 L514.0,402.2 L514.6,404.8 L515.3,407.4 L515.9,410.0 L516.5,412.5 L517.2,414.9 L517.8,417.3 L518.4,419.6 L519.0,421.8 L519.7,423.9 L520.3,426.0 L520.9,427.9 L521.5,429.8 L522.2,431.6 L522.8,433.4 L523.4,435.0 L524.1,436.6 L524.7,438.1 L525.3,439.5 L525.9,440.8 L526.6,442.1 L527.2,443.2 L527.8,444.3 L528.4,445.4 L529.1,446.3 L529.7,447.1 L530.3,447.9 L531.0,448.6 L531.6,449.3 L532.2,449.9 L532.8,450.4 L533.5,450.9 L534.1,451.4 L534.7,451.8 L535.3,452.2 L536.0,452.6 L536.6,453.0 L537.2,453.4 L537.9,453.7 L538.5,454.0 L539.1,454.3 L539.7,454.5 L540.4,454.8 L541.0,455.0 L541.6,455.2 L542.2,455.4 L542.9,455.6 L543.5,455.8 L544.1,456.0 L544.8,456.2 L545.4,456.3 L546.0,456.5 L546.6,456.6 L547.3,456.8 L547.9,456.9 L548.5,457.0 L549.2,457.1 L549.8,457.1 L550.4,457.2 L551.0,457.2 L551.7,457.2 L552.3,457.2 L552.9,457.1 L553.5,457.0 L554.2,456.9 L554.8,456.8 L555.4,456.7 L556.1,456.5 L556.7,456.4 L557.3,456.2 L557.9,456.0 L558.6,455.7 L559.2,455.5 L559.8,455.3 L560.4,455.0 L561.1,454.7 L561.7,454.4 L562.3,454.1 L563.0,453.8 L563.6,453.4 L564.2,453.0 L564.8,452.5 L565.5,452.0 L566.1,451.5 L566.7,451.0 L567.3,450.4 L568.0,449.8 L568.6,449.3 L569.2,448.7 L569.9,448.1 L570.5,447.5 L571.1,446.9 L571.7,446.2 L572.4,445.6 L573.0,445.0 L573.6,444.4 L574.2,443.7 L574.9,443.0 L575.5,442.4 L576.1,441.7 L576.8,441.0 L577.4,440.3 L578.0,439.5 L578.6,438.8 L579.3,438.1 L579.9,437.4 L580.5,436.7 L581.1,436.0 L581.8,435.3 L582.4,434.6 L583.0,433.8 L583.7,433.1 L584.3,432.4 L584.9,431.7 L585.5,431.0 L586.2,430.3 L586.8,429.6 L587.4,428.9 L588.0,428.2 L588.7,427.5 L589.3,426.8 L589.9,426.2 L590.6,425.5 L591.2,424.9 L591.8,424.3 L592.4,423.7 L593.1,423.1 L593.7,422.5 L594.3,422.0 L594.9,421.5 L595.6,420.9 L596.2,420.4 L596.8,419.9 L597.5,419.5 L598.1,419.0 L598.7,418.5 L599.3,418.1 L600.0,417.6 L600.6,417.2 L601.2,416.8 L601.8,416.4 L602.5,416.0 L603.1,415.6 L603.7,415.2 L604.4,414.9 L605.0,414.5 L605.6,414.2 L606.2,413.9 L606.9,413.6 L607.5,413.3 L608.1,413.1 L608.7,412.9 L609.4,412.7 L610.0,412.6" stroke="#0000ff" stroke-width="2.6" stroke-linejoin="round"/>
<path d="M359.7,414.9 L360.3,414.9 L361.0,415.0 L361.6,415.1 L362.2,415.3 L362.8,415.6 L363.5,415.8 L364.1,416.1 L364.7,416.4 L365.3,416.8 L366.0,417.1 L366.6,417.4 L367.2,417.8 L367.9,418.2 L368.5,418.6 L369.1,419.0 L369.7,419.4 L370.4,419.9 L371.0,420.3 L371.6,420.8 L372.2,421.3 L372.9,421.9 L373.5,422.4 L374.1,423.0 L374.8,423.6 L375.4,424.2 L376.0,424.8 L376.6,425.4 L377.3,426.0 L377.9,426.6 L378.5,427.3 L379.1,427.9 L379.8,428.5 L380.4,429.1 L381.0,429.7 L381.7,430.3 L382.3,430.9 L382.9,431.5 L383.5,432.2 L384.2,432.8 L384.8,433.4 L385.4,434.0 L386.0,434.7 L386.7,435.3 L387.3,435.9 L387.9,436.5 L388.6,437.2 L389.2,437.8 L389.8,438.4 L390.4,439.0 L391.1,439.6 L391.7,440.2 L392.3,440.8 L392.9,441.3 L393.6,441.9 L394.2,442.5 L394.8,443.1 L395.5,443.7 L396.1,444.3 L396.7,444.8 L397.3,445.4 L398.0,445.9 L398.6,446.5 L399.2,447.0 L399.8,447.5 L400.5,448.0 L401.1,448.5 L401.7,449.0 L402.4,449.4 L403.0,449.9 L403.6,450.4 L404.2,450.8 L404.9,451.3 L405.5,451.7 L406.1,452.1 L406.7,452.6 L407.4,453.0 L408.0,453.3 L408.6,453.7 L409.3,454.1 L409.9,454.4 L410.5,454.7 L411.1,454.9 L411.8,455.2 L412.4,455.4 L413.0,455.6 L413.6,455.8 L414.3,456.0 L414.9,456.2 L415.5,456.4 L416.2,456.6 L416.8,456.7 L417.4,456.8 L418.0,456.9 L418.7,457.0 L419.3,457.1 L419.9,457.2 L420.5,457.2 L421.2,457.2 L421.8,457.2 L422.4,457.1 L423.1,457.0 L423.7,456.9 L424.3,456.8 L424.9,456.7 L425.6,456.5 L426.2,456.4 L426.8,456.2 L427.5,456.0 L428.1,455.8 L428.7,455.6 L429.3,455.4 L430.0,455.2 L430.6,455.0 L431.2,454.8 L431.8,454.6 L432.5,454.4 L433.1,454.2 L433.7,454.0 L434.4,453.7 L435.0,453.5 L435.6,453.3 L436.2,453.0 L436.9,452.7 L437.5,452.5 L438.1,452.2 L438.7,451.9 L439.4,451.6 L440.0,451.3 L440.6,451.0 L441.3,450.6 L441.9,450.2 L442.5,449.8 L443.1,449.3 L443.8,448.7 L444.4,448.1 L445.0,447.4 L445.6,446.5 L446.3,445.6 L446.9,444.5 L447.5,443.2 L448.2,441.8 L448.8,440.3 L449.4,438.5 L450.0,436.7 L450.7,434.7 L451.3,432.7 L451.9,430.6 L452.5,428.4 L453.2,426.1 L453.8,423.8 L454.4,421.4 L455.1,419.0 L455.7,416.6 L456.3,414.1 L456.9,411.5 L457.6,408.9 L458.2,406.3 L458.8,403.6 L459.4,401.0 L460.1,398.3 L460.7,395.6 L461.3,392.9 L462.0,390.1 L462.6,387.4 L463.2,384.7 L463.8,382.1 L464.5,379.4 L465.1,376.8 L465.7,374.2 L466.3,371.7 L467.0,369.2 L467.6,366.8 L468.2,364.4 L468.9,362.2 L469.5,360.0 L470.1,357.8 L470.7,355.7 L471.4,353.7 L472.0,351.7 L472.6,349.8 L473.2,347.9 L473.9,346.1 L474.5,344.3 L475.1,342.6 L475.8,341.0 L476.4,339.5 L477.0,338.1 L477.6,336.7 L478.3,335.5 L478.9,334.4 L479.5,333.4 L480.1,332.5 L480.8,331.7 L481.4,331.0 L482.0,330.4 L482.7,330.0 L483.3,329.6 L483.9,329.2 L484.5,329.0 L485.2,328.8 L485.8,328.7 L486.4,328.7 L487.0,328.7 L487.7,328.9 L488.3,329.2 L488.9,329.5 L489.6,330.0 L490.2,330.5 L490.8,331.2 L491.4,331.9 L492.1,332.7 L492.7,333.7 L493.3,334.8 L493.9,336.0 L494.6,337.4 L495.2,338.9 L495.8,340.5 L496.5,342.1 L497.1,343.9 L497.7,345.7 L498.3,347.7 L499.0,349.7 L499.6,351.8 L500.2,353.9 L500.8,356.2 L501.5,358.4 L502.1,360.8 L502.7,363.1 L503.4,365.5 L504.0,368.0 L504.6,370.5 L505.2,373.0 L505.9,375.5 L506.5,378.0 L507.1,380.6 L507.7,383.2 L508.4,385.7 L509.0,388.3 L509.6,390.8 L510.3,393.3 L510.9,395.9 L511.5,398.4 L512.1,400.9 L512.8,403.3 L513.4,405.7 L514.0,408.1 L514.6,410.4 L515.3,412.7 L515.9,415.0 L516.5,417.2 L517.2,419.3 L517.8,421.4 L518.4,423.4 L519.0,425.3 L519.7,427.2 L520.3,428.9 L520.9,430.6 L521.5,432.3 L522.2,433.8 L522.8,435.3 L523.4,436.8 L524.1,438.1 L524.7,439.4 L525.3,440.6 L525.9,441.8 L526.6,442.9 L527.2,443.9 L527.8,444.9 L528.4,445.8 L529.1,446.6 L529.7,447.4 L530.3,448.1 L531.0,448.7 L531.6,449.4 L532.2,449.9 L532.8,450.5 L533.5,450.9 L534.1,451.4 L534.7,451.8 L535.3,452.3 L536.0,452.6 L536.6,453.0 L537.2,453.3 L537.9,453.7 L538.5,454.0 L539.1,454.3 L539.7,454.5 L540.4,454.8 L541.0,455.0 L541.6,455.2 L542.2,455.4 L542.9,455.6 L543.5,455.8 L544.1,456.0 L544.8,456.2 L545.4,456.3 L546.0,456.5 L546.6,456.6 L547.3,456.8 L547.9,456.9 L548.5,457.0 L549.2,457.1 L549.8,457.1 L550.4,457.2 L551.0,457.2 L551.7,457.2 L552.3,457.2 L552.9,457.2 L553.5,457.1 L554.2,457.1 L554.8,457.0 L555.4,456.9 L556.1,456.8 L556.7,456.7 L557.3,456.6 L557.9,456.4 L558.6,456.3 L559.2,456.1 L559.8,456.0 L560.4,455.8 L561.1,455.6 L561.7,455.4 L562.3,455.1 L563.0,454.8 L563.6,454.5 L564.2,454.2 L564.8,453.8 L565.5,453.4 L566.1,453.0 L566.7,452.6 L567.3,452.1 L568.0,451.6 L568.6,451.1 L569.2,450.6 L569.9,450.1 L570.5,449.6 L571.1,449.1 L571.7,448.6 L572.4,448.0 L573.0,447.5 L573.6,446.9 L574.2,446.3 L574.9,445.7 L575.5,445.1 L576.1,444.4 L576.8,443.8 L577.4,443.1 L578.0,442.5 L578.6,441.8 L579.3,441.1 L579.9,440.4 L580.5,439.8 L581.1,439.1 L581.8,438.4 L582.4,437.7 L583.0,437.1 L583.7,436.4 L584.3,435.7 L584.9,435.0 L585.5,434.4 L586.2,433.7 L586.8,433.0 L587.4,432.3 L588.0,431.6 L588.7,431.0 L589.3,430.3 L589.9,429.6 L590.6,429.0 L591.2,428.3 L591.8,427.7 L592.4,427.1 L593.1,426.5 L593.7,426.0 L594.3,425.4 L594.9,424.9 L595.6,424.4 L596.2,423.8 L596.8,423.3 L597.5,422.8 L598.1,422.4 L598.7,421.9 L599.3,421.4 L600.0,420.9 L600.6,420.5 L601.2,420.0 L601.8,419.6 L602.5,419.1 L603.1,418.7 L603.7,418.3 L604.4,417.8 L605.0,417.4 L605.6,417.0 L606.2,416.6 L606.9,416.2 L607.5,415.9 L608.1,415.5 L608.7,415.3 L609.4,415.1 L610.0,414.9" stroke="#ff0000" stroke-width="2.4" stroke-dasharray="9.2 8.8" stroke-linejoin="round"/>
</g>
<rect x="359.7" y="285.3" width="250.3" height="172.0" fill="none" stroke="#3c3c3c" stroke-width="1.25"/>
<g stroke="#3c3c3c" stroke-width="1"><line x1="429.2" y1="457.3" x2="429.2" y2="454.3"/><line x1="429.2" y1="285.3" x2="429.2" y2="288.3"/><line x1="498.8" y1="457.3" x2="498.8" y2="454.3"/><line x1="498.8" y1="285.3" x2="498.8" y2="288.3"/><line x1="568.3" y1="457.3" x2="568.3" y2="454.3"/><line x1="568.3" y1="285.3" x2="568.3" y2="288.3"/><line x1="359.7" y1="414.3" x2="362.7" y2="414.3"/><line x1="610.0" y1="414.3" x2="607.0" y2="414.3"/><line x1="359.7" y1="371.3" x2="362.7" y2="371.3"/><line x1="610.0" y1="371.3" x2="607.0" y2="371.3"/><line x1="359.7" y1="328.3" x2="362.7" y2="328.3"/><line x1="610.0" y1="328.3" x2="607.0" y2="328.3"/></g>
<g class="sans" font-size="12" fill="#000" stroke="#000" stroke-width="0.25"><text x="359.7" y="470.8" text-anchor="middle">0</text><text x="429.2" y="470.8" text-anchor="middle">100</text><text x="498.8" y="470.8" text-anchor="middle">200</text><text x="568.3" y="470.8" text-anchor="middle">300</text><text x="354.5" y="461.7" text-anchor="end">0</text><text x="354.5" y="418.7" text-anchor="end">2</text><text x="354.5" y="375.7" text-anchor="end">4</text><text x="354.5" y="332.7" text-anchor="end">6</text><text x="354.5" y="289.7" text-anchor="end">8</text>
<text x="360.7" y="281.2" font-size="16.5">×</text><text x="372.1" y="280.4" font-size="12.8">10<tspan font-size="10" dy="-6.3">-3</tspan></text>
<text x="446" y="491.5" font-size="14"><tspan class="serif" font-style="italic" font-size="16.5">θ</tspan><tspan font-size="10.8" dy="6.6">s</tspan><tspan dy="-6.6"> (degrees)</tspan></text>
<text transform="translate(335.8,371.7) rotate(-90)" text-anchor="middle" font-size="14.1">Amplitude (z)</text>
</g>
<text class="serif" x="393" y="311.2" font-size="16.6">p - p</text>
<rect x="510.4" y="296.1" width="88.8" height="36.9" fill="#fff" stroke="#3c3c3c" stroke-width="1.1"/>
<line x1="517.2" y1="306.1" x2="552.9" y2="306.1" stroke="#0000ff" stroke-width="2.5"/>
<line x1="517.2" y1="322.8" x2="552.9" y2="322.8" stroke="#ff0000" stroke-width="2.5" stroke-dasharray="9.2 9.4"/>
<g class="sans" font-size="12.5" fill="#000" stroke="#000" stroke-width="0.25"><text x="556.5" y="311.1">Theory</text><text x="556.5" y="327.6">FE-BI</text></g>
<text class="serif" x="488.3" y="517.2" font-size="16.3" font-weight="bold" text-anchor="middle">(d)</text>
</g>
</svg>
</body></html>
